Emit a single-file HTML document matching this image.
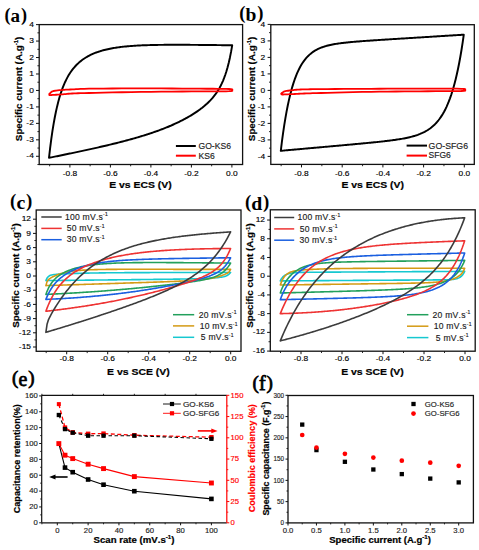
<!DOCTYPE html>
<html><head><meta charset="utf-8"><style>
html,body{margin:0;padding:0;background:#fff;overflow:hidden;width:479px;height:550px;}
svg{display:block;}
</style></head><body>
<svg width="479" height="550" viewBox="0 0 479 550">
<rect width="479" height="550" fill="#fff"/>
<rect x="39.2" y="24.6" width="203.39999999999998" height="139.9" fill="none" stroke="#111" stroke-width="1.3"/>
<line x1="36.00" y1="156.29" x2="39.20" y2="156.29" stroke="#111" stroke-width="1.0"/>
<text transform="translate(33.80 158.39) scale(1.050 1)" font-family="'Liberation Sans', sans-serif" font-size="8.0" text-anchor="end" fill="#000" stroke="#000" stroke-width="0.15" style="font-kerning:none">-4</text>
<line x1="36.00" y1="139.83" x2="39.20" y2="139.83" stroke="#111" stroke-width="1.0"/>
<text transform="translate(33.80 141.93) scale(1.050 1)" font-family="'Liberation Sans', sans-serif" font-size="8.0" text-anchor="end" fill="#000" stroke="#000" stroke-width="0.15" style="font-kerning:none">-3</text>
<line x1="36.00" y1="123.37" x2="39.20" y2="123.37" stroke="#111" stroke-width="1.0"/>
<text transform="translate(33.80 125.47) scale(1.050 1)" font-family="'Liberation Sans', sans-serif" font-size="8.0" text-anchor="end" fill="#000" stroke="#000" stroke-width="0.15" style="font-kerning:none">-2</text>
<line x1="36.00" y1="106.91" x2="39.20" y2="106.91" stroke="#111" stroke-width="1.0"/>
<text transform="translate(33.80 109.01) scale(1.050 1)" font-family="'Liberation Sans', sans-serif" font-size="8.0" text-anchor="end" fill="#000" stroke="#000" stroke-width="0.15" style="font-kerning:none">-1</text>
<line x1="36.00" y1="90.45" x2="39.20" y2="90.45" stroke="#111" stroke-width="1.0"/>
<text transform="translate(33.80 92.55) scale(1.050 1)" font-family="'Liberation Sans', sans-serif" font-size="8.0" text-anchor="end" fill="#000" stroke="#000" stroke-width="0.15" style="font-kerning:none">0</text>
<line x1="36.00" y1="73.99" x2="39.20" y2="73.99" stroke="#111" stroke-width="1.0"/>
<text transform="translate(33.80 76.09) scale(1.050 1)" font-family="'Liberation Sans', sans-serif" font-size="8.0" text-anchor="end" fill="#000" stroke="#000" stroke-width="0.15" style="font-kerning:none">1</text>
<line x1="36.00" y1="57.53" x2="39.20" y2="57.53" stroke="#111" stroke-width="1.0"/>
<text transform="translate(33.80 59.63) scale(1.050 1)" font-family="'Liberation Sans', sans-serif" font-size="8.0" text-anchor="end" fill="#000" stroke="#000" stroke-width="0.15" style="font-kerning:none">2</text>
<line x1="36.00" y1="41.07" x2="39.20" y2="41.07" stroke="#111" stroke-width="1.0"/>
<text transform="translate(33.80 43.17) scale(1.050 1)" font-family="'Liberation Sans', sans-serif" font-size="8.0" text-anchor="end" fill="#000" stroke="#000" stroke-width="0.15" style="font-kerning:none">3</text>
<line x1="36.00" y1="24.61" x2="39.20" y2="24.61" stroke="#111" stroke-width="1.0"/>
<text transform="translate(33.80 26.71) scale(1.050 1)" font-family="'Liberation Sans', sans-serif" font-size="8.0" text-anchor="end" fill="#000" stroke="#000" stroke-width="0.15" style="font-kerning:none">4</text>
<line x1="37.40" y1="148.06" x2="39.20" y2="148.06" stroke="#111" stroke-width="0.9"/>
<line x1="37.40" y1="131.60" x2="39.20" y2="131.60" stroke="#111" stroke-width="0.9"/>
<line x1="37.40" y1="115.14" x2="39.20" y2="115.14" stroke="#111" stroke-width="0.9"/>
<line x1="37.40" y1="98.68" x2="39.20" y2="98.68" stroke="#111" stroke-width="0.9"/>
<line x1="37.40" y1="82.22" x2="39.20" y2="82.22" stroke="#111" stroke-width="0.9"/>
<line x1="37.40" y1="65.76" x2="39.20" y2="65.76" stroke="#111" stroke-width="0.9"/>
<line x1="37.40" y1="49.30" x2="39.20" y2="49.30" stroke="#111" stroke-width="0.9"/>
<line x1="37.40" y1="32.84" x2="39.20" y2="32.84" stroke="#111" stroke-width="0.9"/>
<line x1="37.40" y1="164.52" x2="39.20" y2="164.52" stroke="#111" stroke-width="0.9"/>
<line x1="69.90" y1="164.50" x2="69.90" y2="167.50" stroke="#111" stroke-width="1.0"/>
<text transform="translate(69.90 176.00) scale(1.050 1)" font-family="'Liberation Sans', sans-serif" font-size="8.0" text-anchor="middle" fill="#000" stroke="#000" stroke-width="0.15" style="font-kerning:none">-0.8</text>
<line x1="110.40" y1="164.50" x2="110.40" y2="167.50" stroke="#111" stroke-width="1.0"/>
<text transform="translate(110.40 176.00) scale(1.050 1)" font-family="'Liberation Sans', sans-serif" font-size="8.0" text-anchor="middle" fill="#000" stroke="#000" stroke-width="0.15" style="font-kerning:none">-0.6</text>
<line x1="150.90" y1="164.50" x2="150.90" y2="167.50" stroke="#111" stroke-width="1.0"/>
<text transform="translate(150.90 176.00) scale(1.050 1)" font-family="'Liberation Sans', sans-serif" font-size="8.0" text-anchor="middle" fill="#000" stroke="#000" stroke-width="0.15" style="font-kerning:none">-0.4</text>
<line x1="191.40" y1="164.50" x2="191.40" y2="167.50" stroke="#111" stroke-width="1.0"/>
<text transform="translate(191.40 176.00) scale(1.050 1)" font-family="'Liberation Sans', sans-serif" font-size="8.0" text-anchor="middle" fill="#000" stroke="#000" stroke-width="0.15" style="font-kerning:none">-0.2</text>
<line x1="231.90" y1="164.50" x2="231.90" y2="167.50" stroke="#111" stroke-width="1.0"/>
<text transform="translate(231.90 176.00) scale(1.050 1)" font-family="'Liberation Sans', sans-serif" font-size="8.0" text-anchor="middle" fill="#000" stroke="#000" stroke-width="0.15" style="font-kerning:none">0.0</text>
<line x1="49.65" y1="164.50" x2="49.65" y2="166.30" stroke="#111" stroke-width="0.9"/>
<line x1="90.15" y1="164.50" x2="90.15" y2="166.30" stroke="#111" stroke-width="0.9"/>
<line x1="130.65" y1="164.50" x2="130.65" y2="166.30" stroke="#111" stroke-width="0.9"/>
<line x1="171.15" y1="164.50" x2="171.15" y2="166.30" stroke="#111" stroke-width="0.9"/>
<line x1="211.65" y1="164.50" x2="211.65" y2="166.30" stroke="#111" stroke-width="0.9"/>
<text x="4.45" y="20.63" font-family="'Liberation Serif', serif" font-weight="bold" font-size="18.19" fill="#000">(<tspan font-size="19.10" dy="1.5">a</tspan><tspan dy="-1.5" dx="0.9">)</tspan></text>
<text transform="translate(140.40 187.60) scale(1.120 1)" font-family="'Liberation Sans', sans-serif" font-size="9.3" font-weight="bold" text-anchor="middle" fill="#000" stroke="#000" stroke-width="0.2" style="font-kerning:none">E vs ECS (V)</text>
<text transform="translate(21.60 88.90) rotate(-90)" font-family="'Liberation Sans', sans-serif" font-size="9.8" font-weight="bold" text-anchor="middle" fill="#000" stroke="#000" stroke-width="0.2" style="font-kerning:none">Specific current (A.g<tspan dy="-3.9" font-size="6.1">-1</tspan><tspan dy="3.9">)</tspan></text>
<path d="M49.00,157.80 L50.15,147.79 L51.31,138.88 L52.46,130.94 L53.61,123.84 L54.76,117.48 L55.92,111.77 L57.07,106.64 L58.22,102.01 L59.37,97.82 L60.52,94.03 L61.68,90.59 L62.83,87.45 L63.98,84.60 L65.13,81.98 L66.29,79.58 L67.44,77.38 L68.59,75.35 L69.74,73.48 L70.89,71.75 L72.05,70.15 L73.20,68.66 L74.35,67.28 L75.50,65.99 L76.66,64.78 L77.81,63.66 L78.96,62.61 L80.11,61.62 L81.26,60.69 L82.42,59.82 L83.57,59.00 L84.72,58.23 L85.87,57.51 L87.03,56.82 L88.18,56.17 L89.33,55.56 L90.48,54.98 L91.63,54.43 L92.79,53.92 L93.94,53.43 L95.09,52.96 L96.24,52.52 L97.39,52.10 L98.55,51.71 L99.70,51.33 L100.85,50.97 L102.00,50.63 L103.16,50.31 L104.31,50.01 L105.46,49.72 L106.61,49.44 L107.76,49.18 L108.92,48.93 L110.07,48.69 L111.22,48.47 L112.37,48.26 L113.53,48.06 L114.68,47.86 L115.83,47.68 L116.98,47.51 L118.13,47.35 L119.29,47.19 L120.44,47.04 L121.59,46.90 L122.74,46.77 L123.90,46.64 L125.05,46.52 L126.20,46.41 L127.35,46.30 L128.50,46.20 L129.66,46.11 L130.81,46.01 L131.96,45.93 L133.11,45.85 L134.27,45.77 L135.42,45.70 L136.57,45.63 L137.72,45.57 L138.87,45.51 L140.03,45.45 L141.18,45.39 L142.33,45.34 L143.48,45.30 L144.64,45.25 L145.79,45.21 L146.94,45.17 L148.09,45.13 L149.24,45.10 L150.40,45.07 L151.55,45.04 L152.70,45.01 L153.85,44.99 L155.01,44.96 L156.16,44.94 L157.31,44.92 L158.46,44.90 L159.61,44.89 L160.77,44.87 L161.92,44.86 L163.07,44.85 L164.22,44.84 L165.38,44.83 L166.53,44.82 L167.68,44.81 L168.83,44.81 L169.98,44.80 L171.14,44.80 L172.29,44.79 L173.44,44.79 L174.59,44.79 L175.75,44.79 L176.90,44.79 L178.05,44.79 L179.20,44.79 L180.35,44.80 L181.51,44.80 L182.66,44.80 L183.81,44.81 L184.96,44.81 L186.12,44.82 L187.27,44.83 L188.42,44.83 L189.57,44.84 L190.72,44.85 L191.88,44.85 L193.03,44.86 L194.18,44.87 L195.33,44.88 L196.49,44.89 L197.64,44.90 L198.79,44.91 L199.94,44.92 L201.09,44.93 L202.25,44.94 L203.40,44.95 L204.55,44.97 L205.70,44.98 L206.86,44.99 L208.01,45.00 L209.16,45.02 L210.31,45.03 L211.46,45.04 L212.62,45.05 L213.77,45.07 L214.92,45.08 L216.07,45.09 L217.22,45.11 L218.38,45.12 L219.53,45.14 L220.68,45.15 L221.83,45.17 L222.99,45.18 L224.14,45.19 L225.29,45.21 L226.44,45.22 L227.59,45.24 L228.75,45.25 L229.90,45.27 L231.05,45.28 L232.20,45.30 L231.05,51.89 L229.90,57.66 L228.75,62.74 L227.59,67.23 L226.44,71.21 L225.29,74.76 L224.14,77.94 L222.99,80.80 L221.83,83.39 L220.68,85.74 L219.53,87.89 L218.38,89.87 L217.22,91.69 L216.07,93.39 L214.92,94.96 L213.77,96.44 L212.62,97.83 L211.46,99.14 L210.31,100.38 L209.16,101.56 L208.01,102.68 L206.86,103.76 L205.70,104.79 L204.55,105.79 L203.40,106.74 L202.25,107.67 L201.09,108.56 L199.94,109.43 L198.79,110.27 L197.64,111.09 L196.49,111.88 L195.33,112.65 L194.18,113.41 L193.03,114.14 L191.88,114.86 L190.72,115.56 L189.57,116.24 L188.42,116.91 L187.27,117.57 L186.12,118.21 L184.96,118.84 L183.81,119.46 L182.66,120.06 L181.51,120.65 L180.35,121.23 L179.20,121.80 L178.05,122.36 L176.90,122.91 L175.75,123.45 L174.59,123.98 L173.44,124.50 L172.29,125.01 L171.14,125.52 L169.98,126.01 L168.83,126.50 L167.68,126.98 L166.53,127.45 L165.38,127.91 L164.22,128.37 L163.07,128.82 L161.92,129.26 L160.77,129.70 L159.61,130.13 L158.46,130.55 L157.31,130.97 L156.16,131.38 L155.01,131.79 L153.85,132.19 L152.70,132.59 L151.55,132.98 L150.40,133.37 L149.24,133.75 L148.09,134.12 L146.94,134.50 L145.79,134.86 L144.64,135.23 L143.48,135.59 L142.33,135.94 L141.18,136.29 L140.03,136.64 L138.87,136.98 L137.72,137.32 L136.57,137.66 L135.42,137.99 L134.27,138.32 L133.11,138.65 L131.96,138.97 L130.81,139.29 L129.66,139.61 L128.50,139.92 L127.35,140.23 L126.20,140.54 L125.05,140.85 L123.90,141.15 L122.74,141.46 L121.59,141.75 L120.44,142.05 L119.29,142.35 L118.13,142.64 L116.98,142.93 L115.83,143.22 L114.68,143.50 L113.53,143.79 L112.37,144.07 L111.22,144.35 L110.07,144.63 L108.92,144.90 L107.76,145.18 L106.61,145.45 L105.46,145.72 L104.31,146.00 L103.16,146.26 L102.00,146.53 L100.85,146.80 L99.70,147.06 L98.55,147.33 L97.39,147.59 L96.24,147.85 L95.09,148.11 L93.94,148.37 L92.79,148.62 L91.63,148.88 L90.48,149.14 L89.33,149.39 L88.18,149.64 L87.03,149.89 L85.87,150.15 L84.72,150.40 L83.57,150.64 L82.42,150.89 L81.26,151.14 L80.11,151.39 L78.96,151.63 L77.81,151.88 L76.66,152.12 L75.50,152.37 L74.35,152.61 L73.20,152.85 L72.05,153.09 L70.89,153.33 L69.74,153.57 L68.59,153.81 L67.44,154.05 L66.29,154.29 L65.13,154.53 L63.98,154.76 L62.83,155.00 L61.68,155.24 L60.52,155.47 L59.37,155.71 L58.22,155.94 L57.07,156.18 L55.92,156.41 L54.76,156.64 L53.61,156.88 L52.46,157.11 L51.31,157.34 L50.15,157.57 L49.00,157.80 Z" fill="none" stroke="#000" stroke-width="1.95" stroke-linejoin="round"/>
<path d="M48.70,94.80 L48.86,94.61 L49.06,94.34 L49.31,94.02 L49.60,93.68 L49.93,93.33 L50.30,93.00 L50.66,92.67 L50.99,92.31 L51.36,91.96 L51.84,91.61 L52.50,91.28 L53.40,91.00 L54.60,90.76 L56.07,90.54 L57.71,90.36 L59.43,90.19 L61.16,90.04 L62.80,89.90 L64.28,89.78 L65.66,89.70 L67.04,89.62 L68.52,89.56 L70.21,89.49 L72.20,89.40 L74.16,89.29 L75.95,89.17 L77.94,89.04 L80.52,88.91 L84.08,88.80 L89.00,88.70 L95.55,88.62 L103.47,88.55 L112.36,88.49 L121.84,88.44 L131.52,88.41 L141.00,88.40 L150.78,88.42 L161.26,88.46 L171.94,88.51 L182.30,88.58 L191.82,88.64 L200.00,88.70 L206.87,88.74 L212.86,88.77 L218.01,88.80 L222.39,88.84 L226.03,88.90 L229.00,89.00 L231.05,89.14 L232.08,89.31 L232.39,89.50 L232.25,89.70 L231.96,89.91 L231.80,90.10 L231.96,90.29 L232.25,90.50 L232.39,90.71 L232.08,90.90 L231.05,91.07 L229.00,91.20 L226.03,91.28 L222.39,91.32 L218.01,91.34 L212.86,91.34 L206.87,91.36 L200.00,91.40 L191.82,91.46 L182.30,91.52 L171.94,91.59 L161.26,91.68 L150.78,91.78 L141.00,91.90 L131.52,92.06 L121.84,92.24 L112.36,92.45 L103.47,92.66 L95.55,92.84 L89.00,93.00 L84.08,93.11 L80.52,93.20 L77.94,93.27 L75.95,93.33 L74.16,93.41 L72.20,93.50 L70.21,93.62 L68.52,93.75 L67.04,93.89 L65.66,94.04 L64.28,94.17 L62.80,94.30 L61.16,94.42 L59.44,94.53 L57.72,94.64 L56.09,94.74 L54.62,94.83 L53.40,94.90 L52.46,94.96 L51.74,95.01 L51.19,95.06 L50.76,95.09 L50.38,95.10 L50.00,95.10 L49.65,95.08 L49.36,95.03 L49.14,94.96 L48.96,94.90 L48.82,94.84 L48.70,94.80" fill="none" stroke="#f00" stroke-width="1.8" stroke-linejoin="round"/>
<line x1="175.90" y1="146.00" x2="195.80" y2="146.00" stroke="#000" stroke-width="2"/>
<line x1="175.90" y1="155.70" x2="195.80" y2="155.70" stroke="#f00" stroke-width="2"/>
<text transform="translate(198.50 148.90) scale(1.050 1)" font-family="'Liberation Sans', sans-serif" font-size="8.2" text-anchor="start" fill="#222" stroke="#222" stroke-width="0.15" style="font-kerning:none">GO-KS6</text>
<text transform="translate(198.50 158.80) scale(1.050 1)" font-family="'Liberation Sans', sans-serif" font-size="8.2" text-anchor="start" fill="#222" stroke="#222" stroke-width="0.15" style="font-kerning:none">KS6</text>
<rect x="270.8" y="24.7" width="203.5" height="139.70000000000002" fill="none" stroke="#111" stroke-width="1.3"/>
<line x1="267.60" y1="156.40" x2="270.80" y2="156.40" stroke="#111" stroke-width="1.0"/>
<text transform="translate(265.20 158.50) scale(1.050 1)" font-family="'Liberation Sans', sans-serif" font-size="8.0" text-anchor="end" fill="#000" stroke="#000" stroke-width="0.15" style="font-kerning:none">-4</text>
<line x1="267.60" y1="139.90" x2="270.80" y2="139.90" stroke="#111" stroke-width="1.0"/>
<text transform="translate(265.20 142.00) scale(1.050 1)" font-family="'Liberation Sans', sans-serif" font-size="8.0" text-anchor="end" fill="#000" stroke="#000" stroke-width="0.15" style="font-kerning:none">-3</text>
<line x1="267.60" y1="123.40" x2="270.80" y2="123.40" stroke="#111" stroke-width="1.0"/>
<text transform="translate(265.20 125.50) scale(1.050 1)" font-family="'Liberation Sans', sans-serif" font-size="8.0" text-anchor="end" fill="#000" stroke="#000" stroke-width="0.15" style="font-kerning:none">-2</text>
<line x1="267.60" y1="106.90" x2="270.80" y2="106.90" stroke="#111" stroke-width="1.0"/>
<text transform="translate(265.20 109.00) scale(1.050 1)" font-family="'Liberation Sans', sans-serif" font-size="8.0" text-anchor="end" fill="#000" stroke="#000" stroke-width="0.15" style="font-kerning:none">-1</text>
<line x1="267.60" y1="90.40" x2="270.80" y2="90.40" stroke="#111" stroke-width="1.0"/>
<text transform="translate(265.20 92.50) scale(1.050 1)" font-family="'Liberation Sans', sans-serif" font-size="8.0" text-anchor="end" fill="#000" stroke="#000" stroke-width="0.15" style="font-kerning:none">0</text>
<line x1="267.60" y1="73.90" x2="270.80" y2="73.90" stroke="#111" stroke-width="1.0"/>
<text transform="translate(265.20 76.00) scale(1.050 1)" font-family="'Liberation Sans', sans-serif" font-size="8.0" text-anchor="end" fill="#000" stroke="#000" stroke-width="0.15" style="font-kerning:none">1</text>
<line x1="267.60" y1="57.40" x2="270.80" y2="57.40" stroke="#111" stroke-width="1.0"/>
<text transform="translate(265.20 59.50) scale(1.050 1)" font-family="'Liberation Sans', sans-serif" font-size="8.0" text-anchor="end" fill="#000" stroke="#000" stroke-width="0.15" style="font-kerning:none">2</text>
<line x1="267.60" y1="40.90" x2="270.80" y2="40.90" stroke="#111" stroke-width="1.0"/>
<text transform="translate(265.20 43.00) scale(1.050 1)" font-family="'Liberation Sans', sans-serif" font-size="8.0" text-anchor="end" fill="#000" stroke="#000" stroke-width="0.15" style="font-kerning:none">3</text>
<line x1="267.60" y1="24.40" x2="270.80" y2="24.40" stroke="#111" stroke-width="1.0"/>
<text transform="translate(265.20 26.50) scale(1.050 1)" font-family="'Liberation Sans', sans-serif" font-size="8.0" text-anchor="end" fill="#000" stroke="#000" stroke-width="0.15" style="font-kerning:none">4</text>
<line x1="269.00" y1="148.15" x2="270.80" y2="148.15" stroke="#111" stroke-width="0.9"/>
<line x1="269.00" y1="131.65" x2="270.80" y2="131.65" stroke="#111" stroke-width="0.9"/>
<line x1="269.00" y1="115.15" x2="270.80" y2="115.15" stroke="#111" stroke-width="0.9"/>
<line x1="269.00" y1="98.65" x2="270.80" y2="98.65" stroke="#111" stroke-width="0.9"/>
<line x1="269.00" y1="82.15" x2="270.80" y2="82.15" stroke="#111" stroke-width="0.9"/>
<line x1="269.00" y1="65.65" x2="270.80" y2="65.65" stroke="#111" stroke-width="0.9"/>
<line x1="269.00" y1="49.15" x2="270.80" y2="49.15" stroke="#111" stroke-width="0.9"/>
<line x1="269.00" y1="32.65" x2="270.80" y2="32.65" stroke="#111" stroke-width="0.9"/>
<line x1="301.50" y1="164.40" x2="301.50" y2="167.40" stroke="#111" stroke-width="1.0"/>
<text transform="translate(301.50 176.00) scale(1.050 1)" font-family="'Liberation Sans', sans-serif" font-size="8.0" text-anchor="middle" fill="#000" stroke="#000" stroke-width="0.15" style="font-kerning:none">-0.8</text>
<line x1="342.20" y1="164.40" x2="342.20" y2="167.40" stroke="#111" stroke-width="1.0"/>
<text transform="translate(342.20 176.00) scale(1.050 1)" font-family="'Liberation Sans', sans-serif" font-size="8.0" text-anchor="middle" fill="#000" stroke="#000" stroke-width="0.15" style="font-kerning:none">-0.6</text>
<line x1="382.90" y1="164.40" x2="382.90" y2="167.40" stroke="#111" stroke-width="1.0"/>
<text transform="translate(382.90 176.00) scale(1.050 1)" font-family="'Liberation Sans', sans-serif" font-size="8.0" text-anchor="middle" fill="#000" stroke="#000" stroke-width="0.15" style="font-kerning:none">-0.4</text>
<line x1="423.60" y1="164.40" x2="423.60" y2="167.40" stroke="#111" stroke-width="1.0"/>
<text transform="translate(423.60 176.00) scale(1.050 1)" font-family="'Liberation Sans', sans-serif" font-size="8.0" text-anchor="middle" fill="#000" stroke="#000" stroke-width="0.15" style="font-kerning:none">-0.2</text>
<line x1="464.30" y1="164.40" x2="464.30" y2="167.40" stroke="#111" stroke-width="1.0"/>
<text transform="translate(464.30 176.00) scale(1.050 1)" font-family="'Liberation Sans', sans-serif" font-size="8.0" text-anchor="middle" fill="#000" stroke="#000" stroke-width="0.15" style="font-kerning:none">0.0</text>
<line x1="281.15" y1="164.40" x2="281.15" y2="166.20" stroke="#111" stroke-width="0.9"/>
<line x1="321.85" y1="164.40" x2="321.85" y2="166.20" stroke="#111" stroke-width="0.9"/>
<line x1="362.55" y1="164.40" x2="362.55" y2="166.20" stroke="#111" stroke-width="0.9"/>
<line x1="403.25" y1="164.40" x2="403.25" y2="166.20" stroke="#111" stroke-width="0.9"/>
<line x1="443.95" y1="164.40" x2="443.95" y2="166.20" stroke="#111" stroke-width="0.9"/>
<text x="239.20" y="19.23" font-family="'Liberation Serif', serif" font-weight="bold" font-size="18.63" fill="#000">(<tspan font-size="19.56" dy="1.5">b</tspan><tspan dy="-1.5" dx="0.9">)</tspan></text>
<text transform="translate(372.70 187.60) scale(1.120 1)" font-family="'Liberation Sans', sans-serif" font-size="9.3" font-weight="bold" text-anchor="middle" fill="#000" stroke="#000" stroke-width="0.2" style="font-kerning:none">E vs ECS (V)</text>
<text transform="translate(254.60 88.90) rotate(-90)" font-family="'Liberation Sans', sans-serif" font-size="9.8" font-weight="bold" text-anchor="middle" fill="#000" stroke="#000" stroke-width="0.2" style="font-kerning:none">Specific current (A.g<tspan dy="-3.9" font-size="6.1">-1</tspan><tspan dy="3.9">)</tspan></text>
<path d="M280.80,150.81 L281.95,141.47 L283.11,132.95 L284.26,125.19 L285.41,118.10 L286.56,111.63 L287.71,105.73 L288.86,100.34 L290.01,95.43 L291.16,90.94 L292.31,86.84 L293.46,83.10 L294.61,79.69 L295.77,76.57 L296.92,73.72 L298.07,71.11 L299.22,68.73 L300.37,66.56 L301.52,64.57 L302.67,62.75 L303.82,61.08 L304.97,59.56 L306.12,58.16 L307.27,56.88 L308.42,55.71 L309.58,54.63 L310.73,53.65 L311.88,52.74 L313.03,51.91 L314.18,51.15 L315.33,50.44 L316.48,49.80 L317.63,49.20 L318.78,48.65 L319.93,48.14 L321.08,47.67 L322.24,47.24 L323.39,46.84 L324.54,46.47 L325.69,46.12 L326.84,45.80 L327.99,45.50 L329.14,45.22 L330.29,44.96 L331.44,44.71 L332.59,44.49 L333.74,44.27 L334.89,44.07 L336.05,43.88 L337.20,43.70 L338.35,43.53 L339.50,43.36 L340.65,43.21 L341.80,43.06 L342.95,42.92 L344.10,42.79 L345.25,42.66 L346.40,42.54 L347.55,42.42 L348.70,42.30 L349.86,42.19 L351.01,42.09 L352.16,41.98 L353.31,41.88 L354.46,41.78 L355.61,41.69 L356.76,41.59 L357.91,41.50 L359.06,41.41 L360.21,41.32 L361.36,41.23 L362.52,41.15 L363.67,41.06 L364.82,40.98 L365.97,40.90 L367.12,40.82 L368.27,40.74 L369.42,40.66 L370.57,40.58 L371.72,40.50 L372.87,40.42 L374.02,40.34 L375.17,40.27 L376.33,40.19 L377.48,40.11 L378.63,40.04 L379.78,39.96 L380.93,39.89 L382.08,39.81 L383.23,39.74 L384.38,39.67 L385.53,39.59 L386.68,39.52 L387.83,39.44 L388.99,39.37 L390.14,39.30 L391.29,39.22 L392.44,39.15 L393.59,39.08 L394.74,39.01 L395.89,38.93 L397.04,38.86 L398.19,38.79 L399.34,38.72 L400.49,38.64 L401.64,38.57 L402.80,38.50 L403.95,38.43 L405.10,38.36 L406.25,38.28 L407.40,38.21 L408.55,38.14 L409.70,38.07 L410.85,38.00 L412.00,37.92 L413.15,37.85 L414.30,37.78 L415.46,37.71 L416.61,37.64 L417.76,37.56 L418.91,37.49 L420.06,37.42 L421.21,37.35 L422.36,37.28 L423.51,37.20 L424.66,37.13 L425.81,37.06 L426.96,36.99 L428.11,36.92 L429.27,36.85 L430.42,36.77 L431.57,36.70 L432.72,36.63 L433.87,36.56 L435.02,36.49 L436.17,36.42 L437.32,36.34 L438.47,36.27 L439.62,36.20 L440.77,36.13 L441.92,36.06 L443.08,35.99 L444.23,35.91 L445.38,35.84 L446.53,35.77 L447.68,35.70 L448.83,35.63 L449.98,35.56 L451.13,35.48 L452.28,35.41 L453.43,35.34 L454.58,35.27 L455.74,35.20 L456.89,35.13 L458.04,35.05 L459.19,34.98 L460.34,34.91 L461.49,34.84 L462.64,34.77 L463.79,34.70 L462.64,42.65 L461.49,49.98 L460.34,56.74 L459.19,62.98 L458.04,68.74 L456.89,74.05 L455.74,78.96 L454.58,83.48 L453.43,87.66 L452.28,91.52 L451.13,95.08 L449.98,98.37 L448.83,101.41 L447.68,104.22 L446.53,106.82 L445.38,109.22 L444.23,111.44 L443.08,113.49 L441.92,115.39 L440.77,117.15 L439.62,118.78 L438.47,120.28 L437.32,121.68 L436.17,122.98 L435.02,124.18 L433.87,125.30 L432.72,126.33 L431.57,127.29 L430.42,128.19 L429.27,129.02 L428.11,129.80 L426.96,130.52 L425.81,131.19 L424.66,131.82 L423.51,132.41 L422.36,132.96 L421.21,133.47 L420.06,133.95 L418.91,134.40 L417.76,134.83 L416.61,135.23 L415.46,135.60 L414.30,135.96 L413.15,136.29 L412.00,136.61 L410.85,136.91 L409.70,137.19 L408.55,137.46 L407.40,137.72 L406.25,137.96 L405.10,138.20 L403.95,138.42 L402.80,138.63 L401.64,138.84 L400.49,139.04 L399.34,139.22 L398.19,139.41 L397.04,139.58 L395.89,139.75 L394.74,139.92 L393.59,140.08 L392.44,140.24 L391.29,140.39 L390.14,140.53 L388.99,140.68 L387.83,140.82 L386.68,140.96 L385.53,141.09 L384.38,141.22 L383.23,141.35 L382.08,141.48 L380.93,141.61 L379.78,141.73 L378.63,141.86 L377.48,141.98 L376.33,142.10 L375.17,142.21 L374.02,142.33 L372.87,142.45 L371.72,142.56 L370.57,142.67 L369.42,142.79 L368.27,142.90 L367.12,143.01 L365.97,143.12 L364.82,143.23 L363.67,143.34 L362.52,143.45 L361.36,143.56 L360.21,143.67 L359.06,143.77 L357.91,143.88 L356.76,143.99 L355.61,144.09 L354.46,144.20 L353.31,144.31 L352.16,144.41 L351.01,144.52 L349.86,144.62 L348.70,144.73 L347.55,144.83 L346.40,144.94 L345.25,145.04 L344.10,145.15 L342.95,145.25 L341.80,145.35 L340.65,145.46 L339.50,145.56 L338.35,145.66 L337.20,145.77 L336.05,145.87 L334.89,145.98 L333.74,146.08 L332.59,146.18 L331.44,146.29 L330.29,146.39 L329.14,146.49 L327.99,146.60 L326.84,146.70 L325.69,146.80 L324.54,146.90 L323.39,147.01 L322.24,147.11 L321.08,147.21 L319.93,147.32 L318.78,147.42 L317.63,147.52 L316.48,147.62 L315.33,147.73 L314.18,147.83 L313.03,147.93 L311.88,148.04 L310.73,148.14 L309.58,148.24 L308.42,148.34 L307.27,148.45 L306.12,148.55 L304.97,148.65 L303.82,148.75 L302.67,148.86 L301.52,148.96 L300.37,149.06 L299.22,149.16 L298.07,149.27 L296.92,149.37 L295.77,149.47 L294.61,149.58 L293.46,149.68 L292.31,149.78 L291.16,149.88 L290.01,149.99 L288.86,150.09 L287.71,150.19 L286.56,150.29 L285.41,150.40 L284.26,150.50 L283.11,150.60 L281.95,150.70 L280.80,150.81 Z" fill="none" stroke="#000" stroke-width="1.95" stroke-linejoin="round"/>
<path d="M280.70,94.10 L280.90,93.91 L281.16,93.64 L281.48,93.32 L281.83,92.99 L282.21,92.67 L282.60,92.40 L282.94,92.17 L283.22,91.97 L283.53,91.78 L283.94,91.59 L284.54,91.40 L285.40,91.20 L286.58,90.98 L288.04,90.74 L289.69,90.51 L291.42,90.28 L293.16,90.07 L294.80,89.90 L296.28,89.77 L297.66,89.67 L299.04,89.59 L300.52,89.52 L302.21,89.46 L304.20,89.40 L306.19,89.34 L308.02,89.29 L310.06,89.24 L312.67,89.19 L316.19,89.15 L321.00,89.10 L327.42,89.05 L335.24,89.00 L343.99,88.94 L353.18,88.89 L362.34,88.84 L371.00,88.80 L379.31,88.76 L387.69,88.71 L396.04,88.67 L404.27,88.63 L412.29,88.61 L420.00,88.60 L427.78,88.60 L435.77,88.60 L443.55,88.62 L450.69,88.65 L456.75,88.71 L461.30,88.80 L464.03,88.93 L465.23,89.10 L465.34,89.29 L464.85,89.50 L464.22,89.71 L463.90,89.90 L464.22,90.09 L464.85,90.30 L465.34,90.50 L465.23,90.69 L464.03,90.86 L461.30,91.00 L456.75,91.09 L450.69,91.15 L443.55,91.19 L435.77,91.21 L427.78,91.25 L420.00,91.30 L412.29,91.36 L404.27,91.43 L396.04,91.49 L387.69,91.57 L379.31,91.67 L371.00,91.80 L362.34,91.97 L353.18,92.17 L343.99,92.40 L335.24,92.63 L327.42,92.83 L321.00,93.00 L316.19,93.12 L312.67,93.22 L310.06,93.29 L308.02,93.36 L306.19,93.42 L304.20,93.50 L302.21,93.58 L300.52,93.67 L299.04,93.76 L297.66,93.84 L296.28,93.92 L294.80,94.00 L293.16,94.08 L291.43,94.15 L289.71,94.22 L288.07,94.29 L286.60,94.35 L285.40,94.40 L284.50,94.44 L283.84,94.47 L283.36,94.50 L282.99,94.51 L282.66,94.52 L282.30,94.50 L281.93,94.46 L281.60,94.39 L281.31,94.31 L281.06,94.22 L280.86,94.15 L280.70,94.10" fill="none" stroke="#f00" stroke-width="1.8" stroke-linejoin="round"/>
<line x1="406.60" y1="145.60" x2="427.00" y2="145.60" stroke="#000" stroke-width="2"/>
<line x1="406.60" y1="155.60" x2="427.00" y2="155.60" stroke="#f00" stroke-width="2"/>
<text transform="translate(428.60 148.60) scale(1.070 1)" font-family="'Liberation Sans', sans-serif" font-size="8.2" text-anchor="start" fill="#222" stroke="#222" stroke-width="0.15" style="font-kerning:none">GO-SFG6</text>
<text transform="translate(428.60 158.20) scale(1.040 1)" font-family="'Liberation Sans', sans-serif" font-size="8.2" text-anchor="start" fill="#222" stroke="#222" stroke-width="0.15" style="font-kerning:none">SFG6</text>
<rect x="36.2" y="210" width="204.8" height="141.3" fill="none" stroke="#111" stroke-width="1.3"/>
<line x1="33.00" y1="347.00" x2="36.20" y2="347.00" stroke="#111" stroke-width="1.0"/>
<text transform="translate(31.00 349.10) scale(1.050 1)" font-family="'Liberation Sans', sans-serif" font-size="8.0" text-anchor="end" fill="#000" stroke="#000" stroke-width="0.15" style="font-kerning:none">-15</text>
<line x1="33.00" y1="332.80" x2="36.20" y2="332.80" stroke="#111" stroke-width="1.0"/>
<text transform="translate(31.00 334.90) scale(1.050 1)" font-family="'Liberation Sans', sans-serif" font-size="8.0" text-anchor="end" fill="#000" stroke="#000" stroke-width="0.15" style="font-kerning:none">-12</text>
<line x1="33.00" y1="318.60" x2="36.20" y2="318.60" stroke="#111" stroke-width="1.0"/>
<text transform="translate(31.00 320.70) scale(1.050 1)" font-family="'Liberation Sans', sans-serif" font-size="8.0" text-anchor="end" fill="#000" stroke="#000" stroke-width="0.15" style="font-kerning:none">-9</text>
<line x1="33.00" y1="304.40" x2="36.20" y2="304.40" stroke="#111" stroke-width="1.0"/>
<text transform="translate(31.00 306.50) scale(1.050 1)" font-family="'Liberation Sans', sans-serif" font-size="8.0" text-anchor="end" fill="#000" stroke="#000" stroke-width="0.15" style="font-kerning:none">-6</text>
<line x1="33.00" y1="290.20" x2="36.20" y2="290.20" stroke="#111" stroke-width="1.0"/>
<text transform="translate(31.00 292.30) scale(1.050 1)" font-family="'Liberation Sans', sans-serif" font-size="8.0" text-anchor="end" fill="#000" stroke="#000" stroke-width="0.15" style="font-kerning:none">-3</text>
<line x1="33.00" y1="276.00" x2="36.20" y2="276.00" stroke="#111" stroke-width="1.0"/>
<text transform="translate(31.00 278.10) scale(1.050 1)" font-family="'Liberation Sans', sans-serif" font-size="8.0" text-anchor="end" fill="#000" stroke="#000" stroke-width="0.15" style="font-kerning:none">0</text>
<line x1="33.00" y1="261.80" x2="36.20" y2="261.80" stroke="#111" stroke-width="1.0"/>
<text transform="translate(31.00 263.90) scale(1.050 1)" font-family="'Liberation Sans', sans-serif" font-size="8.0" text-anchor="end" fill="#000" stroke="#000" stroke-width="0.15" style="font-kerning:none">3</text>
<line x1="33.00" y1="247.60" x2="36.20" y2="247.60" stroke="#111" stroke-width="1.0"/>
<text transform="translate(31.00 249.70) scale(1.050 1)" font-family="'Liberation Sans', sans-serif" font-size="8.0" text-anchor="end" fill="#000" stroke="#000" stroke-width="0.15" style="font-kerning:none">6</text>
<line x1="33.00" y1="233.40" x2="36.20" y2="233.40" stroke="#111" stroke-width="1.0"/>
<text transform="translate(31.00 235.50) scale(1.050 1)" font-family="'Liberation Sans', sans-serif" font-size="8.0" text-anchor="end" fill="#000" stroke="#000" stroke-width="0.15" style="font-kerning:none">9</text>
<line x1="33.00" y1="219.20" x2="36.20" y2="219.20" stroke="#111" stroke-width="1.0"/>
<text transform="translate(31.00 221.30) scale(1.050 1)" font-family="'Liberation Sans', sans-serif" font-size="8.0" text-anchor="end" fill="#000" stroke="#000" stroke-width="0.15" style="font-kerning:none">12</text>
<line x1="34.40" y1="339.90" x2="36.20" y2="339.90" stroke="#111" stroke-width="0.9"/>
<line x1="34.40" y1="325.70" x2="36.20" y2="325.70" stroke="#111" stroke-width="0.9"/>
<line x1="34.40" y1="311.50" x2="36.20" y2="311.50" stroke="#111" stroke-width="0.9"/>
<line x1="34.40" y1="297.30" x2="36.20" y2="297.30" stroke="#111" stroke-width="0.9"/>
<line x1="34.40" y1="283.10" x2="36.20" y2="283.10" stroke="#111" stroke-width="0.9"/>
<line x1="34.40" y1="268.90" x2="36.20" y2="268.90" stroke="#111" stroke-width="0.9"/>
<line x1="34.40" y1="254.70" x2="36.20" y2="254.70" stroke="#111" stroke-width="0.9"/>
<line x1="34.40" y1="240.50" x2="36.20" y2="240.50" stroke="#111" stroke-width="0.9"/>
<line x1="34.40" y1="226.30" x2="36.20" y2="226.30" stroke="#111" stroke-width="0.9"/>
<line x1="66.70" y1="351.30" x2="66.70" y2="354.30" stroke="#111" stroke-width="1.0"/>
<text transform="translate(66.70 361.20) scale(1.050 1)" font-family="'Liberation Sans', sans-serif" font-size="8.0" text-anchor="middle" fill="#000" stroke="#000" stroke-width="0.15" style="font-kerning:none">-0.8</text>
<line x1="107.70" y1="351.30" x2="107.70" y2="354.30" stroke="#111" stroke-width="1.0"/>
<text transform="translate(107.70 361.20) scale(1.050 1)" font-family="'Liberation Sans', sans-serif" font-size="8.0" text-anchor="middle" fill="#000" stroke="#000" stroke-width="0.15" style="font-kerning:none">-0.6</text>
<line x1="148.70" y1="351.30" x2="148.70" y2="354.30" stroke="#111" stroke-width="1.0"/>
<text transform="translate(148.70 361.20) scale(1.050 1)" font-family="'Liberation Sans', sans-serif" font-size="8.0" text-anchor="middle" fill="#000" stroke="#000" stroke-width="0.15" style="font-kerning:none">-0.4</text>
<line x1="189.70" y1="351.30" x2="189.70" y2="354.30" stroke="#111" stroke-width="1.0"/>
<text transform="translate(189.70 361.20) scale(1.050 1)" font-family="'Liberation Sans', sans-serif" font-size="8.0" text-anchor="middle" fill="#000" stroke="#000" stroke-width="0.15" style="font-kerning:none">-0.2</text>
<line x1="230.70" y1="351.30" x2="230.70" y2="354.30" stroke="#111" stroke-width="1.0"/>
<text transform="translate(230.70 361.20) scale(1.050 1)" font-family="'Liberation Sans', sans-serif" font-size="8.0" text-anchor="middle" fill="#000" stroke="#000" stroke-width="0.15" style="font-kerning:none">0.0</text>
<line x1="46.20" y1="351.30" x2="46.20" y2="353.10" stroke="#111" stroke-width="0.9"/>
<line x1="87.20" y1="351.30" x2="87.20" y2="353.10" stroke="#111" stroke-width="0.9"/>
<line x1="128.20" y1="351.30" x2="128.20" y2="353.10" stroke="#111" stroke-width="0.9"/>
<line x1="169.20" y1="351.30" x2="169.20" y2="353.10" stroke="#111" stroke-width="0.9"/>
<line x1="210.20" y1="351.30" x2="210.20" y2="353.10" stroke="#111" stroke-width="0.9"/>
<text x="10.10" y="207.28" font-family="'Liberation Serif', serif" font-weight="bold" font-size="18.85" fill="#000">(<tspan font-size="19.80" dy="1.5">c</tspan><tspan dy="-1.5" dx="0.9">)</tspan></text>
<path d="M45.89,280.59 L47.05,278.11 L48.22,276.66 L49.38,275.80 L50.54,275.27 L51.70,274.94 L52.86,274.71 L54.02,274.55 L55.19,274.43 L56.35,274.33 L57.51,274.25 L58.67,274.17 L59.83,274.10 L60.99,274.04 L62.16,273.97 L63.32,273.91 L64.48,273.86 L65.64,273.81 L66.80,273.75 L67.96,273.70 L69.13,273.66 L70.29,273.61 L71.45,273.57 L72.61,273.53 L73.77,273.49 L74.93,273.45 L76.10,273.41 L77.26,273.37 L78.42,273.34 L79.58,273.31 L80.74,273.28 L81.90,273.25 L83.07,273.22 L84.23,273.19 L85.39,273.16 L86.55,273.14 L87.71,273.11 L88.87,273.09 L90.04,273.06 L91.20,273.04 L92.36,273.02 L93.52,273.00 L94.68,272.98 L95.84,272.96 L97.01,272.94 L98.17,272.93 L99.33,272.91 L100.49,272.90 L101.65,272.88 L102.81,272.87 L103.98,272.85 L105.14,272.84 L106.30,272.82 L107.46,272.81 L108.62,272.80 L109.78,272.79 L110.95,272.78 L112.11,272.77 L113.27,272.76 L114.43,272.75 L115.59,272.74 L116.75,272.73 L117.92,272.72 L119.08,272.71 L120.24,272.70 L121.40,272.70 L122.56,272.69 L123.72,272.68 L124.89,272.67 L126.05,272.67 L127.21,272.66 L128.37,272.65 L129.53,272.65 L130.69,272.64 L131.86,272.64 L133.02,272.63 L134.18,272.63 L135.34,272.62 L136.50,272.62 L137.66,272.61 L138.83,272.61 L139.99,272.60 L141.15,272.60 L142.31,272.60 L143.47,272.59 L144.63,272.59 L145.80,272.59 L146.96,272.58 L148.12,272.58 L149.28,272.58 L150.44,272.57 L151.60,272.57 L152.77,272.57 L153.93,272.57 L155.09,272.56 L156.25,272.56 L157.41,272.56 L158.57,272.56 L159.74,272.55 L160.90,272.55 L162.06,272.55 L163.22,272.55 L164.38,272.55 L165.54,272.54 L166.71,272.54 L167.87,272.54 L169.03,272.54 L170.19,272.54 L171.35,272.54 L172.51,272.53 L173.68,272.53 L174.84,272.53 L176.00,272.53 L177.16,272.53 L178.32,272.53 L179.48,272.53 L180.65,272.53 L181.81,272.52 L182.97,272.52 L184.13,272.52 L185.29,272.52 L186.45,272.52 L187.62,272.52 L188.78,272.52 L189.94,272.52 L191.10,272.52 L192.26,272.52 L193.42,272.51 L194.59,272.51 L195.75,272.51 L196.91,272.51 L198.07,272.51 L199.23,272.51 L200.39,272.51 L201.56,272.51 L202.72,272.51 L203.88,272.51 L205.04,272.51 L206.20,272.51 L207.36,272.51 L208.53,272.51 L209.69,272.51 L210.85,272.51 L212.01,272.50 L213.17,272.50 L214.33,272.50 L215.50,272.50 L216.66,272.50 L217.82,272.50 L218.98,272.50 L220.14,272.50 L221.30,272.50 L222.47,272.50 L223.63,272.50 L224.79,272.50 L225.95,272.50 L227.11,272.50 L228.27,272.50 L229.44,272.50 L230.60,272.50 L229.44,273.80 L228.27,274.75 L227.11,275.45 L225.95,275.97 L224.79,276.38 L223.63,276.69 L222.47,276.94 L221.30,277.15 L220.14,277.32 L218.98,277.47 L217.82,277.60 L216.66,277.71 L215.50,277.82 L214.33,277.91 L213.17,277.99 L212.01,278.07 L210.85,278.14 L209.69,278.21 L208.53,278.27 L207.36,278.33 L206.20,278.38 L205.04,278.43 L203.88,278.48 L202.72,278.53 L201.56,278.57 L200.39,278.61 L199.23,278.65 L198.07,278.68 L196.91,278.72 L195.75,278.75 L194.59,278.78 L193.42,278.81 L192.26,278.84 L191.10,278.87 L189.94,278.89 L188.78,278.92 L187.62,278.94 L186.45,278.96 L185.29,278.99 L184.13,279.01 L182.97,279.03 L181.81,279.05 L180.65,279.07 L179.48,279.09 L178.32,279.10 L177.16,279.12 L176.00,279.14 L174.84,279.16 L173.68,279.17 L172.51,279.19 L171.35,279.21 L170.19,279.22 L169.03,279.24 L167.87,279.25 L166.71,279.27 L165.54,279.28 L164.38,279.30 L163.22,279.31 L162.06,279.33 L160.90,279.34 L159.74,279.35 L158.57,279.37 L157.41,279.38 L156.25,279.40 L155.09,279.41 L153.93,279.42 L152.77,279.44 L151.60,279.45 L150.44,279.46 L149.28,279.48 L148.12,279.49 L146.96,279.50 L145.80,279.52 L144.63,279.53 L143.47,279.54 L142.31,279.55 L141.15,279.57 L139.99,279.58 L138.83,279.59 L137.66,279.61 L136.50,279.62 L135.34,279.63 L134.18,279.64 L133.02,279.66 L131.86,279.67 L130.69,279.68 L129.53,279.69 L128.37,279.71 L127.21,279.72 L126.05,279.73 L124.89,279.75 L123.72,279.76 L122.56,279.77 L121.40,279.78 L120.24,279.80 L119.08,279.81 L117.92,279.82 L116.75,279.83 L115.59,279.85 L114.43,279.86 L113.27,279.87 L112.11,279.88 L110.95,279.90 L109.78,279.91 L108.62,279.92 L107.46,279.93 L106.30,279.95 L105.14,279.96 L103.98,279.97 L102.81,279.98 L101.65,279.99 L100.49,280.01 L99.33,280.02 L98.17,280.03 L97.01,280.04 L95.84,280.06 L94.68,280.07 L93.52,280.08 L92.36,280.09 L91.20,280.11 L90.04,280.12 L88.87,280.13 L87.71,280.14 L86.55,280.16 L85.39,280.17 L84.23,280.18 L83.07,280.19 L81.90,280.21 L80.74,280.22 L79.58,280.23 L78.42,280.24 L77.26,280.26 L76.10,280.27 L74.93,280.28 L73.77,280.29 L72.61,280.31 L71.45,280.32 L70.29,280.33 L69.13,280.34 L67.96,280.36 L66.80,280.37 L65.64,280.38 L64.48,280.39 L63.32,280.40 L62.16,280.42 L60.99,280.43 L59.83,280.44 L58.67,280.45 L57.51,280.47 L56.35,280.48 L55.19,280.49 L54.02,280.50 L52.86,280.52 L51.70,280.53 L50.54,280.54 L49.38,280.55 L48.22,280.57 L47.05,280.58 L45.89,280.59 Z" fill="none" stroke="#16c8d0" stroke-width="1.6" stroke-linejoin="round"/>
<path d="M45.89,285.61 L47.05,281.65 L48.22,279.94 L49.38,278.91 L50.54,278.11 L51.70,277.42 L52.86,276.79 L54.02,276.22 L55.19,275.68 L56.35,275.19 L57.51,274.74 L58.67,274.32 L59.83,273.93 L60.99,273.57 L62.16,273.24 L63.32,272.93 L64.48,272.65 L65.64,272.39 L66.80,272.14 L67.96,271.92 L69.13,271.71 L70.29,271.52 L71.45,271.35 L72.61,271.18 L73.77,271.03 L74.93,270.89 L76.10,270.76 L77.26,270.65 L78.42,270.54 L79.58,270.43 L80.74,270.34 L81.90,270.25 L83.07,270.17 L84.23,270.10 L85.39,270.03 L86.55,269.97 L87.71,269.91 L88.87,269.86 L90.04,269.81 L91.20,269.76 L92.36,269.72 L93.52,269.68 L94.68,269.65 L95.84,269.62 L97.01,269.59 L98.17,269.56 L99.33,269.53 L100.49,269.51 L101.65,269.49 L102.81,269.47 L103.98,269.45 L105.14,269.43 L106.30,269.42 L107.46,269.40 L108.62,269.39 L109.78,269.38 L110.95,269.37 L112.11,269.36 L113.27,269.35 L114.43,269.34 L115.59,269.34 L116.75,269.33 L117.92,269.32 L119.08,269.32 L120.24,269.31 L121.40,269.31 L122.56,269.31 L123.72,269.30 L124.89,269.30 L126.05,269.30 L127.21,269.30 L128.37,269.29 L129.53,269.29 L130.69,269.29 L131.86,269.29 L133.02,269.29 L134.18,269.29 L135.34,269.29 L136.50,269.29 L137.66,269.29 L138.83,269.29 L139.99,269.29 L141.15,269.29 L142.31,269.29 L143.47,269.29 L144.63,269.29 L145.80,269.29 L146.96,269.29 L148.12,269.29 L149.28,269.29 L150.44,269.29 L151.60,269.30 L152.77,269.30 L153.93,269.30 L155.09,269.30 L156.25,269.30 L157.41,269.30 L158.57,269.30 L159.74,269.31 L160.90,269.31 L162.06,269.31 L163.22,269.31 L164.38,269.31 L165.54,269.31 L166.71,269.32 L167.87,269.32 L169.03,269.32 L170.19,269.32 L171.35,269.32 L172.51,269.32 L173.68,269.33 L174.84,269.33 L176.00,269.33 L177.16,269.33 L178.32,269.33 L179.48,269.33 L180.65,269.34 L181.81,269.34 L182.97,269.34 L184.13,269.34 L185.29,269.34 L186.45,269.35 L187.62,269.35 L188.78,269.35 L189.94,269.35 L191.10,269.35 L192.26,269.36 L193.42,269.36 L194.59,269.36 L195.75,269.36 L196.91,269.36 L198.07,269.37 L199.23,269.37 L200.39,269.37 L201.56,269.37 L202.72,269.37 L203.88,269.38 L205.04,269.38 L206.20,269.38 L207.36,269.38 L208.53,269.38 L209.69,269.39 L210.85,269.39 L212.01,269.39 L213.17,269.39 L214.33,269.39 L215.50,269.40 L216.66,269.40 L217.82,269.40 L218.98,269.40 L220.14,269.40 L221.30,269.41 L222.47,269.41 L223.63,269.41 L224.79,269.41 L225.95,269.41 L227.11,269.42 L228.27,269.42 L229.44,269.42 L230.60,269.42 L229.44,271.48 L228.27,272.52 L227.11,273.24 L225.95,273.84 L224.79,274.37 L223.63,274.86 L222.47,275.31 L221.30,275.72 L220.14,276.11 L218.98,276.47 L217.82,276.80 L216.66,277.11 L215.50,277.39 L214.33,277.66 L213.17,277.90 L212.01,278.14 L210.85,278.35 L209.69,278.55 L208.53,278.74 L207.36,278.91 L206.20,279.08 L205.04,279.23 L203.88,279.38 L202.72,279.51 L201.56,279.64 L200.39,279.76 L199.23,279.88 L198.07,279.98 L196.91,280.09 L195.75,280.18 L194.59,280.28 L193.42,280.36 L192.26,280.45 L191.10,280.53 L189.94,280.60 L188.78,280.68 L187.62,280.75 L186.45,280.81 L185.29,280.88 L184.13,280.94 L182.97,281.00 L181.81,281.06 L180.65,281.12 L179.48,281.17 L178.32,281.23 L177.16,281.28 L176.00,281.33 L174.84,281.38 L173.68,281.43 L172.51,281.48 L171.35,281.52 L170.19,281.57 L169.03,281.62 L167.87,281.66 L166.71,281.71 L165.54,281.75 L164.38,281.79 L163.22,281.83 L162.06,281.88 L160.90,281.92 L159.74,281.96 L158.57,282.00 L157.41,282.04 L156.25,282.08 L155.09,282.12 L153.93,282.16 L152.77,282.20 L151.60,282.24 L150.44,282.28 L149.28,282.32 L148.12,282.36 L146.96,282.39 L145.80,282.43 L144.63,282.47 L143.47,282.51 L142.31,282.55 L141.15,282.58 L139.99,282.62 L138.83,282.66 L137.66,282.70 L136.50,282.74 L135.34,282.77 L134.18,282.81 L133.02,282.85 L131.86,282.89 L130.69,282.92 L129.53,282.96 L128.37,283.00 L127.21,283.03 L126.05,283.07 L124.89,283.11 L123.72,283.15 L122.56,283.18 L121.40,283.22 L120.24,283.26 L119.08,283.29 L117.92,283.33 L116.75,283.37 L115.59,283.40 L114.43,283.44 L113.27,283.48 L112.11,283.51 L110.95,283.55 L109.78,283.59 L108.62,283.62 L107.46,283.66 L106.30,283.70 L105.14,283.74 L103.98,283.77 L102.81,283.81 L101.65,283.85 L100.49,283.88 L99.33,283.92 L98.17,283.96 L97.01,283.99 L95.84,284.03 L94.68,284.07 L93.52,284.10 L92.36,284.14 L91.20,284.18 L90.04,284.21 L88.87,284.25 L87.71,284.29 L86.55,284.32 L85.39,284.36 L84.23,284.40 L83.07,284.43 L81.90,284.47 L80.74,284.51 L79.58,284.54 L78.42,284.58 L77.26,284.62 L76.10,284.65 L74.93,284.69 L73.77,284.73 L72.61,284.76 L71.45,284.80 L70.29,284.84 L69.13,284.87 L67.96,284.91 L66.80,284.95 L65.64,284.98 L64.48,285.02 L63.32,285.06 L62.16,285.09 L60.99,285.13 L59.83,285.17 L58.67,285.20 L57.51,285.24 L56.35,285.28 L55.19,285.31 L54.02,285.35 L52.86,285.39 L51.70,285.42 L50.54,285.46 L49.38,285.50 L48.22,285.53 L47.05,285.57 L45.89,285.61 Z" fill="none" stroke="#d49a14" stroke-width="1.6" stroke-linejoin="round"/>
<path d="M45.89,294.41 L47.05,291.33 L48.22,288.71 L49.38,286.46 L50.54,284.50 L51.70,282.80 L52.86,281.30 L54.02,279.96 L55.19,278.77 L56.35,277.70 L57.51,276.73 L58.67,275.85 L59.83,275.03 L60.99,274.29 L62.16,273.59 L63.32,272.95 L64.48,272.35 L65.64,271.80 L66.80,271.27 L67.96,270.78 L69.13,270.32 L70.29,269.88 L71.45,269.47 L72.61,269.09 L73.77,268.72 L74.93,268.37 L76.10,268.05 L77.26,267.74 L78.42,267.44 L79.58,267.17 L80.74,266.90 L81.90,266.65 L83.07,266.42 L84.23,266.19 L85.39,265.98 L86.55,265.78 L87.71,265.59 L88.87,265.41 L90.04,265.24 L91.20,265.08 L92.36,264.92 L93.52,264.78 L94.68,264.64 L95.84,264.51 L97.01,264.39 L98.17,264.27 L99.33,264.16 L100.49,264.05 L101.65,263.95 L102.81,263.86 L103.98,263.77 L105.14,263.69 L106.30,263.61 L107.46,263.54 L108.62,263.46 L109.78,263.40 L110.95,263.34 L112.11,263.28 L113.27,263.22 L114.43,263.17 L115.59,263.12 L116.75,263.07 L117.92,263.03 L119.08,262.99 L120.24,262.95 L121.40,262.92 L122.56,262.88 L123.72,262.85 L124.89,262.82 L126.05,262.80 L127.21,262.77 L128.37,262.75 L129.53,262.73 L130.69,262.71 L131.86,262.69 L133.02,262.67 L134.18,262.65 L135.34,262.64 L136.50,262.63 L137.66,262.62 L138.83,262.60 L139.99,262.59 L141.15,262.59 L142.31,262.58 L143.47,262.57 L144.63,262.57 L145.80,262.56 L146.96,262.56 L148.12,262.55 L149.28,262.55 L150.44,262.55 L151.60,262.55 L152.77,262.55 L153.93,262.55 L155.09,262.55 L156.25,262.55 L157.41,262.55 L158.57,262.55 L159.74,262.55 L160.90,262.56 L162.06,262.56 L163.22,262.56 L164.38,262.57 L165.54,262.57 L166.71,262.58 L167.87,262.58 L169.03,262.59 L170.19,262.59 L171.35,262.60 L172.51,262.60 L173.68,262.61 L174.84,262.62 L176.00,262.62 L177.16,262.63 L178.32,262.64 L179.48,262.65 L180.65,262.65 L181.81,262.66 L182.97,262.67 L184.13,262.68 L185.29,262.69 L186.45,262.69 L187.62,262.70 L188.78,262.71 L189.94,262.72 L191.10,262.73 L192.26,262.74 L193.42,262.75 L194.59,262.76 L195.75,262.77 L196.91,262.78 L198.07,262.79 L199.23,262.80 L200.39,262.81 L201.56,262.82 L202.72,262.83 L203.88,262.84 L205.04,262.85 L206.20,262.86 L207.36,262.87 L208.53,262.88 L209.69,262.89 L210.85,262.90 L212.01,262.91 L213.17,262.92 L214.33,262.93 L215.50,262.94 L216.66,262.95 L217.82,262.96 L218.98,262.97 L220.14,262.98 L221.30,262.99 L222.47,263.00 L223.63,263.01 L224.79,263.02 L225.95,263.04 L227.11,263.05 L228.27,263.06 L229.44,263.07 L230.60,263.08 L229.44,264.97 L228.27,266.63 L227.11,268.11 L225.95,269.42 L224.79,270.58 L223.63,271.62 L222.47,272.54 L221.30,273.37 L220.14,274.11 L218.98,274.78 L217.82,275.39 L216.66,275.94 L215.50,276.43 L214.33,276.89 L213.17,277.31 L212.01,277.69 L210.85,278.05 L209.69,278.38 L208.53,278.69 L207.36,278.98 L206.20,279.25 L205.04,279.51 L203.88,279.75 L202.72,279.98 L201.56,280.21 L200.39,280.42 L199.23,280.63 L198.07,280.82 L196.91,281.02 L195.75,281.20 L194.59,281.38 L193.42,281.56 L192.26,281.73 L191.10,281.90 L189.94,282.07 L188.78,282.23 L187.62,282.39 L186.45,282.55 L185.29,282.71 L184.13,282.86 L182.97,283.01 L181.81,283.16 L180.65,283.31 L179.48,283.46 L178.32,283.60 L177.16,283.75 L176.00,283.89 L174.84,284.03 L173.68,284.17 L172.51,284.31 L171.35,284.45 L170.19,284.59 L169.03,284.72 L167.87,284.86 L166.71,284.99 L165.54,285.12 L164.38,285.25 L163.22,285.38 L162.06,285.51 L160.90,285.64 L159.74,285.77 L158.57,285.90 L157.41,286.02 L156.25,286.15 L155.09,286.27 L153.93,286.40 L152.77,286.52 L151.60,286.64 L150.44,286.76 L149.28,286.88 L148.12,287.00 L146.96,287.12 L145.80,287.24 L144.63,287.35 L143.47,287.47 L142.31,287.59 L141.15,287.70 L139.99,287.81 L138.83,287.93 L137.66,288.04 L136.50,288.15 L135.34,288.26 L134.18,288.37 L133.02,288.48 L131.86,288.58 L130.69,288.69 L129.53,288.80 L128.37,288.90 L127.21,289.00 L126.05,289.11 L124.89,289.21 L123.72,289.31 L122.56,289.41 L121.40,289.51 L120.24,289.61 L119.08,289.71 L117.92,289.81 L116.75,289.91 L115.59,290.00 L114.43,290.10 L113.27,290.20 L112.11,290.29 L110.95,290.38 L109.78,290.48 L108.62,290.57 L107.46,290.66 L106.30,290.75 L105.14,290.84 L103.98,290.93 L102.81,291.01 L101.65,291.10 L100.49,291.19 L99.33,291.27 L98.17,291.36 L97.01,291.44 L95.84,291.52 L94.68,291.61 L93.52,291.69 L92.36,291.77 L91.20,291.85 L90.04,291.93 L88.87,292.01 L87.71,292.09 L86.55,292.16 L85.39,292.24 L84.23,292.32 L83.07,292.39 L81.90,292.47 L80.74,292.54 L79.58,292.61 L78.42,292.68 L77.26,292.76 L76.10,292.83 L74.93,292.90 L73.77,292.97 L72.61,293.03 L71.45,293.10 L70.29,293.17 L69.13,293.24 L67.96,293.30 L66.80,293.37 L65.64,293.43 L64.48,293.49 L63.32,293.56 L62.16,293.62 L60.99,293.68 L59.83,293.74 L58.67,293.80 L57.51,293.86 L56.35,293.92 L55.19,293.97 L54.02,294.03 L52.86,294.09 L51.70,294.14 L50.54,294.20 L49.38,294.25 L48.22,294.31 L47.05,294.36 L45.89,294.41 Z" fill="none" stroke="#22a05c" stroke-width="1.6" stroke-linejoin="round"/>
<path d="M45.89,299.38 L47.05,296.57 L48.22,294.06 L49.38,291.82 L50.54,289.79 L51.70,287.95 L52.86,286.28 L54.02,284.75 L55.19,283.34 L56.35,282.04 L57.51,280.83 L58.67,279.71 L59.83,278.66 L60.99,277.68 L62.16,276.77 L63.32,275.90 L64.48,275.09 L65.64,274.32 L66.80,273.60 L67.96,272.91 L69.13,272.26 L70.29,271.64 L71.45,271.06 L72.61,270.50 L73.77,269.97 L74.93,269.47 L76.10,268.99 L77.26,268.53 L78.42,268.10 L79.58,267.68 L80.74,267.28 L81.90,266.91 L83.07,266.55 L84.23,266.20 L85.39,265.87 L86.55,265.56 L87.71,265.26 L88.87,264.98 L90.04,264.70 L91.20,264.44 L92.36,264.19 L93.52,263.95 L94.68,263.72 L95.84,263.51 L97.01,263.30 L98.17,263.10 L99.33,262.91 L100.49,262.72 L101.65,262.55 L102.81,262.38 L103.98,262.22 L105.14,262.07 L106.30,261.92 L107.46,261.78 L108.62,261.65 L109.78,261.52 L110.95,261.39 L112.11,261.27 L113.27,261.16 L114.43,261.05 L115.59,260.95 L116.75,260.85 L117.92,260.75 L119.08,260.66 L120.24,260.57 L121.40,260.48 L122.56,260.40 L123.72,260.32 L124.89,260.25 L126.05,260.17 L127.21,260.10 L128.37,260.04 L129.53,259.97 L130.69,259.91 L131.86,259.85 L133.02,259.79 L134.18,259.73 L135.34,259.68 L136.50,259.63 L137.66,259.58 L138.83,259.53 L139.99,259.48 L141.15,259.44 L142.31,259.39 L143.47,259.35 L144.63,259.31 L145.80,259.27 L146.96,259.23 L148.12,259.19 L149.28,259.16 L150.44,259.12 L151.60,259.09 L152.77,259.05 L153.93,259.02 L155.09,258.99 L156.25,258.96 L157.41,258.93 L158.57,258.90 L159.74,258.87 L160.90,258.84 L162.06,258.82 L163.22,258.79 L164.38,258.77 L165.54,258.74 L166.71,258.72 L167.87,258.69 L169.03,258.67 L170.19,258.65 L171.35,258.62 L172.51,258.60 L173.68,258.58 L174.84,258.56 L176.00,258.54 L177.16,258.52 L178.32,258.50 L179.48,258.48 L180.65,258.46 L181.81,258.44 L182.97,258.42 L184.13,258.40 L185.29,258.38 L186.45,258.36 L187.62,258.34 L188.78,258.33 L189.94,258.31 L191.10,258.29 L192.26,258.28 L193.42,258.26 L194.59,258.24 L195.75,258.22 L196.91,258.21 L198.07,258.19 L199.23,258.18 L200.39,258.16 L201.56,258.14 L202.72,258.13 L203.88,258.11 L205.04,258.10 L206.20,258.08 L207.36,258.07 L208.53,258.05 L209.69,258.04 L210.85,258.02 L212.01,258.01 L213.17,257.99 L214.33,257.98 L215.50,257.96 L216.66,257.95 L217.82,257.93 L218.98,257.92 L220.14,257.90 L221.30,257.89 L222.47,257.88 L223.63,257.86 L224.79,257.85 L225.95,257.83 L227.11,257.82 L228.27,257.81 L229.44,257.79 L230.60,257.78 L229.44,259.96 L228.27,261.89 L227.11,263.60 L225.95,265.12 L224.79,266.47 L223.63,267.67 L222.47,268.76 L221.30,269.74 L220.14,270.62 L218.98,271.42 L217.82,272.16 L216.66,272.83 L215.50,273.45 L214.33,274.03 L213.17,274.57 L212.01,275.07 L210.85,275.54 L209.69,275.98 L208.53,276.41 L207.36,276.81 L206.20,277.19 L205.04,277.56 L203.88,277.92 L202.72,278.26 L201.56,278.59 L200.39,278.91 L199.23,279.23 L198.07,279.54 L196.91,279.84 L195.75,280.13 L194.59,280.42 L193.42,280.70 L192.26,280.98 L191.10,281.25 L189.94,281.52 L188.78,281.78 L187.62,282.05 L186.45,282.30 L185.29,282.56 L184.13,282.81 L182.97,283.06 L181.81,283.31 L180.65,283.55 L179.48,283.79 L178.32,284.03 L177.16,284.27 L176.00,284.50 L174.84,284.73 L173.68,284.96 L172.51,285.19 L171.35,285.42 L170.19,285.64 L169.03,285.86 L167.87,286.08 L166.71,286.30 L165.54,286.51 L164.38,286.72 L163.22,286.93 L162.06,287.14 L160.90,287.35 L159.74,287.55 L158.57,287.76 L157.41,287.96 L156.25,288.16 L155.09,288.35 L153.93,288.55 L152.77,288.74 L151.60,288.93 L150.44,289.12 L149.28,289.31 L148.12,289.50 L146.96,289.68 L145.80,289.86 L144.63,290.04 L143.47,290.22 L142.31,290.40 L141.15,290.57 L139.99,290.75 L138.83,290.92 L137.66,291.09 L136.50,291.26 L135.34,291.42 L134.18,291.59 L133.02,291.75 L131.86,291.91 L130.69,292.07 L129.53,292.22 L128.37,292.38 L127.21,292.53 L126.05,292.69 L124.89,292.84 L123.72,292.98 L122.56,293.13 L121.40,293.28 L120.24,293.42 L119.08,293.56 L117.92,293.70 L116.75,293.84 L115.59,293.98 L114.43,294.11 L113.27,294.25 L112.11,294.38 L110.95,294.51 L109.78,294.64 L108.62,294.76 L107.46,294.89 L106.30,295.01 L105.14,295.14 L103.98,295.26 L102.81,295.38 L101.65,295.49 L100.49,295.61 L99.33,295.72 L98.17,295.84 L97.01,295.95 L95.84,296.06 L94.68,296.16 L93.52,296.27 L92.36,296.38 L91.20,296.48 L90.04,296.58 L88.87,296.68 L87.71,296.78 L86.55,296.88 L85.39,296.97 L84.23,297.07 L83.07,297.16 L81.90,297.25 L80.74,297.34 L79.58,297.43 L78.42,297.52 L77.26,297.60 L76.10,297.69 L74.93,297.77 L73.77,297.85 L72.61,297.93 L71.45,298.01 L70.29,298.09 L69.13,298.16 L67.96,298.24 L66.80,298.31 L65.64,298.38 L64.48,298.45 L63.32,298.52 L62.16,298.59 L60.99,298.65 L59.83,298.72 L58.67,298.78 L57.51,298.84 L56.35,298.90 L55.19,298.96 L54.02,299.02 L52.86,299.07 L51.70,299.13 L50.54,299.18 L49.38,299.23 L48.22,299.28 L47.05,299.33 L45.89,299.38 Z" fill="none" stroke="#1a5fe0" stroke-width="1.6" stroke-linejoin="round"/>
<path d="M45.89,311.21 L47.05,308.13 L48.22,305.26 L49.38,302.60 L50.54,300.12 L51.70,297.81 L52.86,295.65 L54.02,293.64 L55.19,291.75 L56.35,289.99 L57.51,288.33 L58.67,286.77 L59.83,285.30 L60.99,283.92 L62.16,282.62 L63.32,281.38 L64.48,280.21 L65.64,279.10 L66.80,278.05 L67.96,277.05 L69.13,276.10 L70.29,275.19 L71.45,274.32 L72.61,273.49 L73.77,272.70 L74.93,271.94 L76.10,271.21 L77.26,270.52 L78.42,269.84 L79.58,269.20 L80.74,268.58 L81.90,267.98 L83.07,267.40 L84.23,266.84 L85.39,266.31 L86.55,265.79 L87.71,265.28 L88.87,264.80 L90.04,264.33 L91.20,263.87 L92.36,263.43 L93.52,263.00 L94.68,262.58 L95.84,262.18 L97.01,261.79 L98.17,261.41 L99.33,261.04 L100.49,260.68 L101.65,260.33 L102.81,259.99 L103.98,259.66 L105.14,259.34 L106.30,259.03 L107.46,258.72 L108.62,258.43 L109.78,258.14 L110.95,257.86 L112.11,257.59 L113.27,257.32 L114.43,257.06 L115.59,256.81 L116.75,256.57 L117.92,256.33 L119.08,256.09 L120.24,255.87 L121.40,255.65 L122.56,255.43 L123.72,255.22 L124.89,255.02 L126.05,254.82 L127.21,254.62 L128.37,254.43 L129.53,254.25 L130.69,254.07 L131.86,253.90 L133.02,253.73 L134.18,253.56 L135.34,253.40 L136.50,253.24 L137.66,253.09 L138.83,252.94 L139.99,252.79 L141.15,252.65 L142.31,252.52 L143.47,252.38 L144.63,252.25 L145.80,252.12 L146.96,252.00 L148.12,251.88 L149.28,251.76 L150.44,251.65 L151.60,251.54 L152.77,251.43 L153.93,251.32 L155.09,251.22 L156.25,251.12 L157.41,251.03 L158.57,250.93 L159.74,250.84 L160.90,250.75 L162.06,250.67 L163.22,250.58 L164.38,250.50 L165.54,250.42 L166.71,250.34 L167.87,250.27 L169.03,250.20 L170.19,250.13 L171.35,250.06 L172.51,249.99 L173.68,249.93 L174.84,249.87 L176.00,249.81 L177.16,249.75 L178.32,249.69 L179.48,249.64 L180.65,249.58 L181.81,249.53 L182.97,249.48 L184.13,249.43 L185.29,249.39 L186.45,249.34 L187.62,249.30 L188.78,249.26 L189.94,249.22 L191.10,249.18 L192.26,249.14 L193.42,249.10 L194.59,249.07 L195.75,249.03 L196.91,249.00 L198.07,248.97 L199.23,248.94 L200.39,248.91 L201.56,248.88 L202.72,248.86 L203.88,248.83 L205.04,248.81 L206.20,248.78 L207.36,248.76 L208.53,248.74 L209.69,248.72 L210.85,248.70 L212.01,248.68 L213.17,248.67 L214.33,248.65 L215.50,248.63 L216.66,248.62 L217.82,248.60 L218.98,248.59 L220.14,248.58 L221.30,248.57 L222.47,248.56 L223.63,248.55 L224.79,248.54 L225.95,248.53 L227.11,248.52 L228.27,248.51 L229.44,248.51 L230.60,248.50 L229.44,251.21 L228.27,253.64 L227.11,255.85 L225.95,257.84 L224.79,259.65 L223.63,261.30 L222.47,262.80 L221.30,264.18 L220.14,265.44 L218.98,266.60 L217.82,267.67 L216.66,268.67 L215.50,269.59 L214.33,270.45 L213.17,271.26 L212.01,272.02 L210.85,272.74 L209.69,273.41 L208.53,274.06 L207.36,274.67 L206.20,275.25 L205.04,275.82 L203.88,276.35 L202.72,276.87 L201.56,277.38 L200.39,277.86 L199.23,278.33 L198.07,278.79 L196.91,279.24 L195.75,279.68 L194.59,280.11 L193.42,280.53 L192.26,280.94 L191.10,281.34 L189.94,281.74 L188.78,282.13 L187.62,282.51 L186.45,282.89 L185.29,283.27 L184.13,283.64 L182.97,284.00 L181.81,284.36 L180.65,284.72 L179.48,285.08 L178.32,285.43 L177.16,285.77 L176.00,286.12 L174.84,286.46 L173.68,286.80 L172.51,287.13 L171.35,287.46 L170.19,287.79 L169.03,288.12 L167.87,288.44 L166.71,288.76 L165.54,289.08 L164.38,289.40 L163.22,289.71 L162.06,290.02 L160.90,290.33 L159.74,290.64 L158.57,290.94 L157.41,291.25 L156.25,291.54 L155.09,291.84 L153.93,292.14 L152.77,292.43 L151.60,292.72 L150.44,293.01 L149.28,293.30 L148.12,293.58 L146.96,293.86 L145.80,294.14 L144.63,294.42 L143.47,294.70 L142.31,294.97 L141.15,295.24 L139.99,295.51 L138.83,295.78 L137.66,296.05 L136.50,296.31 L135.34,296.57 L134.18,296.83 L133.02,297.09 L131.86,297.35 L130.69,297.60 L129.53,297.85 L128.37,298.10 L127.21,298.35 L126.05,298.59 L124.89,298.84 L123.72,299.08 L122.56,299.32 L121.40,299.56 L120.24,299.79 L119.08,300.03 L117.92,300.26 L116.75,300.49 L115.59,300.72 L114.43,300.95 L113.27,301.17 L112.11,301.39 L110.95,301.62 L109.78,301.83 L108.62,302.05 L107.46,302.27 L106.30,302.48 L105.14,302.69 L103.98,302.90 L102.81,303.11 L101.65,303.32 L100.49,303.52 L99.33,303.72 L98.17,303.93 L97.01,304.12 L95.84,304.32 L94.68,304.52 L93.52,304.71 L92.36,304.90 L91.20,305.09 L90.04,305.28 L88.87,305.47 L87.71,305.65 L86.55,305.84 L85.39,306.02 L84.23,306.20 L83.07,306.38 L81.90,306.55 L80.74,306.73 L79.58,306.90 L78.42,307.07 L77.26,307.24 L76.10,307.41 L74.93,307.58 L73.77,307.74 L72.61,307.91 L71.45,308.07 L70.29,308.23 L69.13,308.39 L67.96,308.54 L66.80,308.70 L65.64,308.85 L64.48,309.00 L63.32,309.15 L62.16,309.30 L60.99,309.45 L59.83,309.59 L58.67,309.74 L57.51,309.88 L56.35,310.02 L55.19,310.16 L54.02,310.30 L52.86,310.43 L51.70,310.57 L50.54,310.70 L49.38,310.83 L48.22,310.96 L47.05,311.09 L45.89,311.21 Z" fill="none" stroke="#ee3333" stroke-width="1.6" stroke-linejoin="round"/>
<path d="M45.89,332.32 L47.05,324.30 L48.22,320.44 L49.38,317.80 L50.54,315.55 L51.70,313.45 L52.86,311.42 L54.02,309.45 L55.19,307.54 L56.35,305.67 L57.51,303.85 L58.67,302.08 L59.83,300.35 L60.99,298.66 L62.16,297.02 L63.32,295.42 L64.48,293.86 L65.64,292.33 L66.80,290.85 L67.96,289.40 L69.13,287.99 L70.29,286.61 L71.45,285.27 L72.61,283.96 L73.77,282.69 L74.93,281.44 L76.10,280.23 L77.26,279.05 L78.42,277.89 L79.58,276.77 L80.74,275.67 L81.90,274.60 L83.07,273.56 L84.23,272.54 L85.39,271.55 L86.55,270.58 L87.71,269.64 L88.87,268.71 L90.04,267.82 L91.20,266.94 L92.36,266.08 L93.52,265.25 L94.68,264.44 L95.84,263.64 L97.01,262.87 L98.17,262.11 L99.33,261.38 L100.49,260.66 L101.65,259.96 L102.81,259.27 L103.98,258.61 L105.14,257.95 L106.30,257.32 L107.46,256.70 L108.62,256.09 L109.78,255.50 L110.95,254.92 L112.11,254.36 L113.27,253.81 L114.43,253.27 L115.59,252.75 L116.75,252.24 L117.92,251.74 L119.08,251.25 L120.24,250.78 L121.40,250.31 L122.56,249.86 L123.72,249.41 L124.89,248.98 L126.05,248.56 L127.21,248.15 L128.37,247.74 L129.53,247.35 L130.69,246.96 L131.86,246.59 L133.02,246.22 L134.18,245.86 L135.34,245.51 L136.50,245.17 L137.66,244.83 L138.83,244.51 L139.99,244.19 L141.15,243.88 L142.31,243.57 L143.47,243.27 L144.63,242.98 L145.80,242.69 L146.96,242.41 L148.12,242.14 L149.28,241.87 L150.44,241.61 L151.60,241.36 L152.77,241.11 L153.93,240.86 L155.09,240.62 L156.25,240.39 L157.41,240.16 L158.57,239.94 L159.74,239.72 L160.90,239.50 L162.06,239.29 L163.22,239.09 L164.38,238.88 L165.54,238.69 L166.71,238.49 L167.87,238.30 L169.03,238.12 L170.19,237.94 L171.35,237.76 L172.51,237.58 L173.68,237.41 L174.84,237.25 L176.00,237.08 L177.16,236.92 L178.32,236.76 L179.48,236.61 L180.65,236.45 L181.81,236.31 L182.97,236.16 L184.13,236.02 L185.29,235.87 L186.45,235.74 L187.62,235.60 L188.78,235.47 L189.94,235.34 L191.10,235.21 L192.26,235.08 L193.42,234.96 L194.59,234.84 L195.75,234.72 L196.91,234.60 L198.07,234.48 L199.23,234.37 L200.39,234.26 L201.56,234.15 L202.72,234.04 L203.88,233.93 L205.04,233.83 L206.20,233.73 L207.36,233.63 L208.53,233.53 L209.69,233.43 L210.85,233.33 L212.01,233.24 L213.17,233.14 L214.33,233.05 L215.50,232.96 L216.66,232.87 L217.82,232.78 L218.98,232.70 L220.14,232.61 L221.30,232.53 L222.47,232.44 L223.63,232.36 L224.79,232.28 L225.95,232.20 L227.11,232.12 L228.27,232.04 L229.44,231.96 L230.60,231.89 L229.44,234.20 L228.27,236.42 L227.11,238.55 L225.95,240.59 L224.79,242.55 L223.63,244.43 L222.47,246.24 L221.30,247.98 L220.14,249.65 L218.98,251.26 L217.82,252.81 L216.66,254.31 L215.50,255.74 L214.33,257.13 L213.17,258.47 L212.01,259.77 L210.85,261.01 L209.69,262.22 L208.53,263.39 L207.36,264.52 L206.20,265.62 L205.04,266.68 L203.88,267.71 L202.72,268.71 L201.56,269.68 L200.39,270.62 L199.23,271.54 L198.07,272.43 L196.91,273.30 L195.75,274.14 L194.59,274.97 L193.42,275.77 L192.26,276.56 L191.10,277.32 L189.94,278.07 L188.78,278.80 L187.62,279.52 L186.45,280.22 L185.29,280.91 L184.13,281.58 L182.97,282.25 L181.81,282.89 L180.65,283.53 L179.48,284.16 L178.32,284.77 L177.16,285.38 L176.00,285.97 L174.84,286.56 L173.68,287.14 L172.51,287.71 L171.35,288.27 L170.19,288.82 L169.03,289.37 L167.87,289.91 L166.71,290.44 L165.54,290.97 L164.38,291.49 L163.22,292.00 L162.06,292.51 L160.90,293.02 L159.74,293.51 L158.57,294.01 L157.41,294.50 L156.25,294.98 L155.09,295.46 L153.93,295.94 L152.77,296.41 L151.60,296.88 L150.44,297.35 L149.28,297.81 L148.12,298.27 L146.96,298.73 L145.80,299.18 L144.63,299.63 L143.47,300.07 L142.31,300.52 L141.15,300.96 L139.99,301.40 L138.83,301.84 L137.66,302.27 L136.50,302.70 L135.34,303.13 L134.18,303.56 L133.02,303.98 L131.86,304.41 L130.69,304.83 L129.53,305.25 L128.37,305.67 L127.21,306.08 L126.05,306.50 L124.89,306.91 L123.72,307.32 L122.56,307.73 L121.40,308.14 L120.24,308.54 L119.08,308.95 L117.92,309.35 L116.75,309.75 L115.59,310.15 L114.43,310.55 L113.27,310.95 L112.11,311.35 L110.95,311.74 L109.78,312.14 L108.62,312.53 L107.46,312.92 L106.30,313.31 L105.14,313.70 L103.98,314.09 L102.81,314.48 L101.65,314.86 L100.49,315.25 L99.33,315.63 L98.17,316.01 L97.01,316.40 L95.84,316.78 L94.68,317.16 L93.52,317.54 L92.36,317.91 L91.20,318.29 L90.04,318.67 L88.87,319.04 L87.71,319.42 L86.55,319.79 L85.39,320.16 L84.23,320.53 L83.07,320.90 L81.90,321.27 L80.74,321.64 L79.58,322.01 L78.42,322.38 L77.26,322.74 L76.10,323.11 L74.93,323.47 L73.77,323.84 L72.61,324.20 L71.45,324.56 L70.29,324.92 L69.13,325.28 L67.96,325.64 L66.80,326.00 L65.64,326.36 L64.48,326.71 L63.32,327.07 L62.16,327.43 L60.99,327.78 L59.83,328.14 L58.67,328.49 L57.51,328.84 L56.35,329.19 L55.19,329.54 L54.02,329.89 L52.86,330.24 L51.70,330.59 L50.54,330.94 L49.38,331.29 L48.22,331.63 L47.05,331.98 L45.89,332.32 Z" fill="none" stroke="#3c3c3c" stroke-width="1.6" stroke-linejoin="round"/>
<rect x="270.3" y="209.8" width="204.89999999999998" height="141.39999999999998" fill="none" stroke="#111" stroke-width="1.3"/>
<line x1="267.10" y1="351.08" x2="270.30" y2="351.08" stroke="#111" stroke-width="1.0"/>
<text transform="translate(265.00 353.18) scale(1.050 1)" font-family="'Liberation Sans', sans-serif" font-size="8.0" text-anchor="end" fill="#000" stroke="#000" stroke-width="0.15" style="font-kerning:none">-16</text>
<line x1="267.10" y1="332.36" x2="270.30" y2="332.36" stroke="#111" stroke-width="1.0"/>
<text transform="translate(265.00 334.46) scale(1.050 1)" font-family="'Liberation Sans', sans-serif" font-size="8.0" text-anchor="end" fill="#000" stroke="#000" stroke-width="0.15" style="font-kerning:none">-12</text>
<line x1="267.10" y1="313.64" x2="270.30" y2="313.64" stroke="#111" stroke-width="1.0"/>
<text transform="translate(265.00 315.74) scale(1.050 1)" font-family="'Liberation Sans', sans-serif" font-size="8.0" text-anchor="end" fill="#000" stroke="#000" stroke-width="0.15" style="font-kerning:none">-8</text>
<line x1="267.10" y1="294.92" x2="270.30" y2="294.92" stroke="#111" stroke-width="1.0"/>
<text transform="translate(265.00 297.02) scale(1.050 1)" font-family="'Liberation Sans', sans-serif" font-size="8.0" text-anchor="end" fill="#000" stroke="#000" stroke-width="0.15" style="font-kerning:none">-4</text>
<line x1="267.10" y1="276.20" x2="270.30" y2="276.20" stroke="#111" stroke-width="1.0"/>
<text transform="translate(265.00 278.30) scale(1.050 1)" font-family="'Liberation Sans', sans-serif" font-size="8.0" text-anchor="end" fill="#000" stroke="#000" stroke-width="0.15" style="font-kerning:none">0</text>
<line x1="267.10" y1="257.48" x2="270.30" y2="257.48" stroke="#111" stroke-width="1.0"/>
<text transform="translate(265.00 259.58) scale(1.050 1)" font-family="'Liberation Sans', sans-serif" font-size="8.0" text-anchor="end" fill="#000" stroke="#000" stroke-width="0.15" style="font-kerning:none">4</text>
<line x1="267.10" y1="238.76" x2="270.30" y2="238.76" stroke="#111" stroke-width="1.0"/>
<text transform="translate(265.00 240.86) scale(1.050 1)" font-family="'Liberation Sans', sans-serif" font-size="8.0" text-anchor="end" fill="#000" stroke="#000" stroke-width="0.15" style="font-kerning:none">8</text>
<line x1="267.10" y1="220.04" x2="270.30" y2="220.04" stroke="#111" stroke-width="1.0"/>
<text transform="translate(265.00 222.14) scale(1.050 1)" font-family="'Liberation Sans', sans-serif" font-size="8.0" text-anchor="end" fill="#000" stroke="#000" stroke-width="0.15" style="font-kerning:none">12</text>
<line x1="268.50" y1="341.72" x2="270.30" y2="341.72" stroke="#111" stroke-width="0.9"/>
<line x1="268.50" y1="323.00" x2="270.30" y2="323.00" stroke="#111" stroke-width="0.9"/>
<line x1="268.50" y1="304.28" x2="270.30" y2="304.28" stroke="#111" stroke-width="0.9"/>
<line x1="268.50" y1="285.56" x2="270.30" y2="285.56" stroke="#111" stroke-width="0.9"/>
<line x1="268.50" y1="266.84" x2="270.30" y2="266.84" stroke="#111" stroke-width="0.9"/>
<line x1="268.50" y1="248.12" x2="270.30" y2="248.12" stroke="#111" stroke-width="0.9"/>
<line x1="268.50" y1="229.40" x2="270.30" y2="229.40" stroke="#111" stroke-width="0.9"/>
<line x1="301.00" y1="351.20" x2="301.00" y2="354.20" stroke="#111" stroke-width="1.0"/>
<text transform="translate(301.00 361.20) scale(1.050 1)" font-family="'Liberation Sans', sans-serif" font-size="8.0" text-anchor="middle" fill="#000" stroke="#000" stroke-width="0.15" style="font-kerning:none">-0.8</text>
<line x1="342.00" y1="351.20" x2="342.00" y2="354.20" stroke="#111" stroke-width="1.0"/>
<text transform="translate(342.00 361.20) scale(1.050 1)" font-family="'Liberation Sans', sans-serif" font-size="8.0" text-anchor="middle" fill="#000" stroke="#000" stroke-width="0.15" style="font-kerning:none">-0.6</text>
<line x1="383.00" y1="351.20" x2="383.00" y2="354.20" stroke="#111" stroke-width="1.0"/>
<text transform="translate(383.00 361.20) scale(1.050 1)" font-family="'Liberation Sans', sans-serif" font-size="8.0" text-anchor="middle" fill="#000" stroke="#000" stroke-width="0.15" style="font-kerning:none">-0.4</text>
<line x1="424.00" y1="351.20" x2="424.00" y2="354.20" stroke="#111" stroke-width="1.0"/>
<text transform="translate(424.00 361.20) scale(1.050 1)" font-family="'Liberation Sans', sans-serif" font-size="8.0" text-anchor="middle" fill="#000" stroke="#000" stroke-width="0.15" style="font-kerning:none">-0.2</text>
<line x1="465.00" y1="351.20" x2="465.00" y2="354.20" stroke="#111" stroke-width="1.0"/>
<text transform="translate(465.00 361.20) scale(1.050 1)" font-family="'Liberation Sans', sans-serif" font-size="8.0" text-anchor="middle" fill="#000" stroke="#000" stroke-width="0.15" style="font-kerning:none">0.0</text>
<line x1="280.50" y1="351.20" x2="280.50" y2="353.00" stroke="#111" stroke-width="0.9"/>
<line x1="321.50" y1="351.20" x2="321.50" y2="353.00" stroke="#111" stroke-width="0.9"/>
<line x1="362.50" y1="351.20" x2="362.50" y2="353.00" stroke="#111" stroke-width="0.9"/>
<line x1="403.50" y1="351.20" x2="403.50" y2="353.00" stroke="#111" stroke-width="0.9"/>
<line x1="444.50" y1="351.20" x2="444.50" y2="353.00" stroke="#111" stroke-width="0.9"/>
<text x="244.90" y="208.08" font-family="'Liberation Serif', serif" font-weight="bold" font-size="18.85" fill="#000">(<tspan font-size="19.80" dy="1.5">d</tspan><tspan dy="-1.5" dx="0.9">)</tspan></text>
<path d="M280.29,280.88 L281.45,278.67 L282.61,277.19 L283.77,276.10 L284.93,275.27 L286.09,274.62 L287.25,274.12 L288.41,273.73 L289.57,273.42 L290.73,273.18 L291.89,272.99 L293.05,272.85 L294.21,272.73 L295.37,272.64 L296.53,272.56 L297.69,272.50 L298.85,272.46 L300.01,272.42 L301.17,272.39 L302.33,272.36 L303.49,272.34 L304.65,272.32 L305.81,272.31 L306.97,272.29 L308.13,272.28 L309.29,272.27 L310.45,272.26 L311.61,272.25 L312.77,272.24 L313.93,272.23 L315.09,272.23 L316.25,272.22 L317.41,272.21 L318.57,272.20 L319.73,272.20 L320.89,272.19 L322.05,272.18 L323.21,272.18 L324.36,272.17 L325.52,272.16 L326.68,272.16 L327.84,272.15 L329.00,272.14 L330.16,272.14 L331.32,272.13 L332.48,272.12 L333.64,272.12 L334.80,272.11 L335.96,272.10 L337.12,272.10 L338.28,272.09 L339.44,272.09 L340.60,272.08 L341.76,272.07 L342.92,272.07 L344.08,272.06 L345.24,272.05 L346.40,272.05 L347.56,272.04 L348.72,272.03 L349.88,272.03 L351.04,272.02 L352.20,272.01 L353.36,272.01 L354.52,272.00 L355.68,271.99 L356.84,271.99 L358.00,271.98 L359.16,271.97 L360.32,271.97 L361.48,271.96 L362.64,271.95 L363.80,271.95 L364.96,271.94 L366.12,271.94 L367.27,271.93 L368.43,271.92 L369.59,271.92 L370.75,271.91 L371.91,271.90 L373.07,271.90 L374.23,271.89 L375.39,271.88 L376.55,271.88 L377.71,271.87 L378.87,271.86 L380.03,271.86 L381.19,271.85 L382.35,271.84 L383.51,271.84 L384.67,271.83 L385.83,271.82 L386.99,271.82 L388.15,271.81 L389.31,271.80 L390.47,271.80 L391.63,271.79 L392.79,271.78 L393.95,271.78 L395.11,271.77 L396.27,271.77 L397.43,271.76 L398.59,271.75 L399.75,271.75 L400.91,271.74 L402.07,271.73 L403.23,271.73 L404.39,271.72 L405.55,271.71 L406.71,271.71 L407.87,271.70 L409.03,271.69 L410.19,271.69 L411.34,271.68 L412.50,271.67 L413.66,271.67 L414.82,271.66 L415.98,271.65 L417.14,271.65 L418.30,271.64 L419.46,271.63 L420.62,271.63 L421.78,271.62 L422.94,271.61 L424.10,271.61 L425.26,271.60 L426.42,271.60 L427.58,271.59 L428.74,271.58 L429.90,271.58 L431.06,271.57 L432.22,271.56 L433.38,271.56 L434.54,271.55 L435.70,271.54 L436.86,271.54 L438.02,271.53 L439.18,271.52 L440.34,271.52 L441.50,271.51 L442.66,271.50 L443.82,271.50 L444.98,271.49 L446.14,271.48 L447.30,271.48 L448.46,271.47 L449.62,271.46 L450.78,271.46 L451.94,271.45 L453.10,271.44 L454.25,271.44 L455.41,271.43 L456.57,271.43 L457.73,271.42 L458.89,271.41 L460.05,271.41 L461.21,271.40 L462.37,271.39 L463.53,271.39 L464.69,271.38 L463.53,273.63 L462.37,275.22 L461.21,276.38 L460.05,277.24 L458.89,277.88 L457.73,278.37 L456.57,278.73 L455.41,279.00 L454.25,279.21 L453.10,279.36 L451.94,279.48 L450.78,279.57 L449.62,279.64 L448.46,279.69 L447.30,279.74 L446.14,279.77 L444.98,279.79 L443.82,279.82 L442.66,279.83 L441.50,279.85 L440.34,279.86 L439.18,279.87 L438.02,279.89 L436.86,279.90 L435.70,279.90 L434.54,279.91 L433.38,279.92 L432.22,279.93 L431.06,279.94 L429.90,279.94 L428.74,279.95 L427.58,279.96 L426.42,279.97 L425.26,279.97 L424.10,279.98 L422.94,279.99 L421.78,280.00 L420.62,280.00 L419.46,280.01 L418.30,280.02 L417.14,280.03 L415.98,280.03 L414.82,280.04 L413.66,280.05 L412.50,280.05 L411.34,280.06 L410.19,280.07 L409.03,280.08 L407.87,280.08 L406.71,280.09 L405.55,280.10 L404.39,280.11 L403.23,280.11 L402.07,280.12 L400.91,280.13 L399.75,280.13 L398.59,280.14 L397.43,280.15 L396.27,280.16 L395.11,280.16 L393.95,280.17 L392.79,280.18 L391.63,280.18 L390.47,280.19 L389.31,280.20 L388.15,280.21 L386.99,280.21 L385.83,280.22 L384.67,280.23 L383.51,280.24 L382.35,280.24 L381.19,280.25 L380.03,280.26 L378.87,280.26 L377.71,280.27 L376.55,280.28 L375.39,280.29 L374.23,280.29 L373.07,280.30 L371.91,280.31 L370.75,280.32 L369.59,280.32 L368.43,280.33 L367.27,280.34 L366.12,280.34 L364.96,280.35 L363.80,280.36 L362.64,280.37 L361.48,280.37 L360.32,280.38 L359.16,280.39 L358.00,280.39 L356.84,280.40 L355.68,280.41 L354.52,280.42 L353.36,280.42 L352.20,280.43 L351.04,280.44 L349.88,280.45 L348.72,280.45 L347.56,280.46 L346.40,280.47 L345.24,280.47 L344.08,280.48 L342.92,280.49 L341.76,280.50 L340.60,280.50 L339.44,280.51 L338.28,280.52 L337.12,280.53 L335.96,280.53 L334.80,280.54 L333.64,280.55 L332.48,280.55 L331.32,280.56 L330.16,280.57 L329.00,280.58 L327.84,280.58 L326.68,280.59 L325.52,280.60 L324.36,280.60 L323.21,280.61 L322.05,280.62 L320.89,280.63 L319.73,280.63 L318.57,280.64 L317.41,280.65 L316.25,280.66 L315.09,280.66 L313.93,280.67 L312.77,280.68 L311.61,280.68 L310.45,280.69 L309.29,280.70 L308.13,280.71 L306.97,280.71 L305.81,280.72 L304.65,280.73 L303.49,280.74 L302.33,280.74 L301.17,280.75 L300.01,280.76 L298.85,280.76 L297.69,280.77 L296.53,280.78 L295.37,280.79 L294.21,280.79 L293.05,280.80 L291.89,280.81 L290.73,280.81 L289.57,280.82 L288.41,280.83 L287.25,280.84 L286.09,280.84 L284.93,280.85 L283.77,280.86 L282.61,280.87 L281.45,280.87 L280.29,280.88 Z" fill="none" stroke="#16c8d0" stroke-width="1.6" stroke-linejoin="round"/>
<path d="M280.29,285.00 L281.45,281.87 L282.61,279.44 L283.77,277.53 L284.93,276.04 L286.09,274.86 L287.25,273.92 L288.41,273.18 L289.57,272.58 L290.73,272.09 L291.89,271.70 L293.05,271.37 L294.21,271.10 L295.37,270.87 L296.53,270.67 L297.69,270.50 L298.85,270.35 L300.01,270.22 L301.17,270.10 L302.33,270.00 L303.49,269.90 L304.65,269.81 L305.81,269.73 L306.97,269.65 L308.13,269.58 L309.29,269.52 L310.45,269.45 L311.61,269.40 L312.77,269.34 L313.93,269.29 L315.09,269.24 L316.25,269.19 L317.41,269.14 L318.57,269.10 L319.73,269.06 L320.89,269.02 L322.05,268.98 L323.21,268.95 L324.36,268.92 L325.52,268.88 L326.68,268.85 L327.84,268.82 L329.00,268.79 L330.16,268.77 L331.32,268.74 L332.48,268.72 L333.64,268.69 L334.80,268.67 L335.96,268.65 L337.12,268.63 L338.28,268.61 L339.44,268.59 L340.60,268.57 L341.76,268.56 L342.92,268.54 L344.08,268.53 L345.24,268.51 L346.40,268.50 L347.56,268.48 L348.72,268.47 L349.88,268.46 L351.04,268.45 L352.20,268.43 L353.36,268.42 L354.52,268.41 L355.68,268.40 L356.84,268.39 L358.00,268.38 L359.16,268.38 L360.32,268.37 L361.48,268.36 L362.64,268.35 L363.80,268.35 L364.96,268.34 L366.12,268.33 L367.27,268.33 L368.43,268.32 L369.59,268.31 L370.75,268.31 L371.91,268.30 L373.07,268.30 L374.23,268.29 L375.39,268.29 L376.55,268.29 L377.71,268.28 L378.87,268.28 L380.03,268.27 L381.19,268.27 L382.35,268.27 L383.51,268.26 L384.67,268.26 L385.83,268.26 L386.99,268.25 L388.15,268.25 L389.31,268.25 L390.47,268.25 L391.63,268.24 L392.79,268.24 L393.95,268.24 L395.11,268.24 L396.27,268.24 L397.43,268.23 L398.59,268.23 L399.75,268.23 L400.91,268.23 L402.07,268.23 L403.23,268.23 L404.39,268.22 L405.55,268.22 L406.71,268.22 L407.87,268.22 L409.03,268.22 L410.19,268.22 L411.34,268.22 L412.50,268.22 L413.66,268.21 L414.82,268.21 L415.98,268.21 L417.14,268.21 L418.30,268.21 L419.46,268.21 L420.62,268.21 L421.78,268.21 L422.94,268.21 L424.10,268.21 L425.26,268.21 L426.42,268.21 L427.58,268.21 L428.74,268.21 L429.90,268.20 L431.06,268.20 L432.22,268.20 L433.38,268.20 L434.54,268.20 L435.70,268.20 L436.86,268.20 L438.02,268.20 L439.18,268.20 L440.34,268.20 L441.50,268.20 L442.66,268.20 L443.82,268.20 L444.98,268.20 L446.14,268.20 L447.30,268.20 L448.46,268.20 L449.62,268.20 L450.78,268.20 L451.94,268.20 L453.10,268.20 L454.25,268.20 L455.41,268.20 L456.57,268.20 L457.73,268.20 L458.89,268.20 L460.05,268.20 L461.21,268.20 L462.37,268.20 L463.53,268.20 L464.69,268.20 L463.53,270.93 L462.37,272.77 L461.21,274.12 L460.05,275.18 L458.89,276.05 L457.73,276.78 L456.57,277.43 L455.41,277.99 L454.25,278.50 L453.10,278.95 L451.94,279.36 L450.78,279.72 L449.62,280.05 L448.46,280.34 L447.30,280.61 L446.14,280.85 L444.98,281.06 L443.82,281.26 L442.66,281.43 L441.50,281.59 L440.34,281.74 L439.18,281.87 L438.02,281.99 L436.86,282.10 L435.70,282.20 L434.54,282.29 L433.38,282.37 L432.22,282.45 L431.06,282.52 L429.90,282.58 L428.74,282.64 L427.58,282.69 L426.42,282.74 L425.26,282.79 L424.10,282.83 L422.94,282.87 L421.78,282.91 L420.62,282.95 L419.46,282.98 L418.30,283.01 L417.14,283.04 L415.98,283.07 L414.82,283.10 L413.66,283.12 L412.50,283.15 L411.34,283.17 L410.19,283.20 L409.03,283.22 L407.87,283.24 L406.71,283.26 L405.55,283.28 L404.39,283.30 L403.23,283.32 L402.07,283.34 L400.91,283.36 L399.75,283.38 L398.59,283.39 L397.43,283.41 L396.27,283.43 L395.11,283.45 L393.95,283.46 L392.79,283.48 L391.63,283.50 L390.47,283.51 L389.31,283.53 L388.15,283.55 L386.99,283.56 L385.83,283.58 L384.67,283.60 L383.51,283.61 L382.35,283.63 L381.19,283.64 L380.03,283.66 L378.87,283.68 L377.71,283.69 L376.55,283.71 L375.39,283.72 L374.23,283.74 L373.07,283.76 L371.91,283.77 L370.75,283.79 L369.59,283.80 L368.43,283.82 L367.27,283.83 L366.12,283.85 L364.96,283.87 L363.80,283.88 L362.64,283.90 L361.48,283.91 L360.32,283.93 L359.16,283.94 L358.00,283.96 L356.84,283.97 L355.68,283.99 L354.52,284.01 L353.36,284.02 L352.20,284.04 L351.04,284.05 L349.88,284.07 L348.72,284.08 L347.56,284.10 L346.40,284.11 L345.24,284.13 L344.08,284.15 L342.92,284.16 L341.76,284.18 L340.60,284.19 L339.44,284.21 L338.28,284.22 L337.12,284.24 L335.96,284.25 L334.80,284.27 L333.64,284.28 L332.48,284.30 L331.32,284.32 L330.16,284.33 L329.00,284.35 L327.84,284.36 L326.68,284.38 L325.52,284.39 L324.36,284.41 L323.21,284.42 L322.05,284.44 L320.89,284.46 L319.73,284.47 L318.57,284.49 L317.41,284.50 L316.25,284.52 L315.09,284.53 L313.93,284.55 L312.77,284.56 L311.61,284.58 L310.45,284.60 L309.29,284.61 L308.13,284.63 L306.97,284.64 L305.81,284.66 L304.65,284.67 L303.49,284.69 L302.33,284.70 L301.17,284.72 L300.01,284.73 L298.85,284.75 L297.69,284.77 L296.53,284.78 L295.37,284.80 L294.21,284.81 L293.05,284.83 L291.89,284.84 L290.73,284.86 L289.57,284.87 L288.41,284.89 L287.25,284.91 L286.09,284.92 L284.93,284.94 L283.77,284.95 L282.61,284.97 L281.45,284.98 L280.29,285.00 Z" fill="none" stroke="#d49a14" stroke-width="1.6" stroke-linejoin="round"/>
<path d="M280.29,293.00 L281.45,289.73 L282.61,287.17 L283.77,284.96 L284.93,282.97 L286.09,281.16 L287.25,279.52 L288.41,278.01 L289.57,276.64 L290.73,275.38 L291.89,274.24 L293.05,273.19 L294.21,272.23 L295.37,271.36 L296.53,270.56 L297.69,269.83 L298.85,269.16 L300.01,268.55 L301.17,267.99 L302.33,267.48 L303.49,267.01 L304.65,266.59 L305.81,266.19 L306.97,265.84 L308.13,265.51 L309.29,265.21 L310.45,264.93 L311.61,264.68 L312.77,264.45 L313.93,264.23 L315.09,264.04 L316.25,263.86 L317.41,263.69 L318.57,263.54 L319.73,263.40 L320.89,263.27 L322.05,263.15 L323.21,263.04 L324.36,262.94 L325.52,262.85 L326.68,262.76 L327.84,262.68 L329.00,262.61 L330.16,262.54 L331.32,262.47 L332.48,262.41 L333.64,262.36 L334.80,262.31 L335.96,262.26 L337.12,262.21 L338.28,262.17 L339.44,262.13 L340.60,262.09 L341.76,262.06 L342.92,262.02 L344.08,261.99 L345.24,261.96 L346.40,261.93 L347.56,261.90 L348.72,261.88 L349.88,261.85 L351.04,261.83 L352.20,261.80 L353.36,261.78 L354.52,261.76 L355.68,261.74 L356.84,261.72 L358.00,261.70 L359.16,261.68 L360.32,261.66 L361.48,261.64 L362.64,261.62 L363.80,261.61 L364.96,261.59 L366.12,261.57 L367.27,261.55 L368.43,261.54 L369.59,261.52 L370.75,261.51 L371.91,261.49 L373.07,261.48 L374.23,261.46 L375.39,261.45 L376.55,261.43 L377.71,261.42 L378.87,261.40 L380.03,261.39 L381.19,261.37 L382.35,261.36 L383.51,261.34 L384.67,261.33 L385.83,261.31 L386.99,261.30 L388.15,261.29 L389.31,261.27 L390.47,261.26 L391.63,261.24 L392.79,261.23 L393.95,261.21 L395.11,261.20 L396.27,261.19 L397.43,261.17 L398.59,261.16 L399.75,261.15 L400.91,261.13 L402.07,261.12 L403.23,261.10 L404.39,261.09 L405.55,261.08 L406.71,261.06 L407.87,261.05 L409.03,261.04 L410.19,261.02 L411.34,261.01 L412.50,260.99 L413.66,260.98 L414.82,260.97 L415.98,260.95 L417.14,260.94 L418.30,260.93 L419.46,260.91 L420.62,260.90 L421.78,260.89 L422.94,260.87 L424.10,260.86 L425.26,260.84 L426.42,260.83 L427.58,260.82 L428.74,260.80 L429.90,260.79 L431.06,260.78 L432.22,260.76 L433.38,260.75 L434.54,260.74 L435.70,260.72 L436.86,260.71 L438.02,260.69 L439.18,260.68 L440.34,260.67 L441.50,260.65 L442.66,260.64 L443.82,260.63 L444.98,260.61 L446.14,260.60 L447.30,260.59 L448.46,260.57 L449.62,260.56 L450.78,260.54 L451.94,260.53 L453.10,260.52 L454.25,260.50 L455.41,260.49 L456.57,260.48 L457.73,260.46 L458.89,260.45 L460.05,260.44 L461.21,260.42 L462.37,260.41 L463.53,260.40 L464.69,260.38 L463.53,263.07 L462.37,265.42 L461.21,267.48 L460.05,269.31 L458.89,270.93 L457.73,272.38 L456.57,273.68 L455.41,274.84 L454.25,275.90 L453.10,276.85 L451.94,277.72 L450.78,278.51 L449.62,279.24 L448.46,279.91 L447.30,280.52 L446.14,281.09 L444.98,281.62 L443.82,282.11 L442.66,282.57 L441.50,282.99 L440.34,283.39 L439.18,283.76 L438.02,284.10 L436.86,284.43 L435.70,284.74 L434.54,285.02 L433.38,285.29 L432.22,285.55 L431.06,285.79 L429.90,286.02 L428.74,286.23 L427.58,286.44 L426.42,286.63 L425.26,286.81 L424.10,286.98 L422.94,287.15 L421.78,287.30 L420.62,287.45 L419.46,287.59 L418.30,287.72 L417.14,287.85 L415.98,287.97 L414.82,288.09 L413.66,288.20 L412.50,288.31 L411.34,288.41 L410.19,288.50 L409.03,288.60 L407.87,288.69 L406.71,288.77 L405.55,288.86 L404.39,288.93 L403.23,289.01 L402.07,289.08 L400.91,289.16 L399.75,289.22 L398.59,289.29 L397.43,289.35 L396.27,289.42 L395.11,289.48 L393.95,289.54 L392.79,289.59 L391.63,289.65 L390.47,289.70 L389.31,289.75 L388.15,289.80 L386.99,289.85 L385.83,289.90 L384.67,289.95 L383.51,290.00 L382.35,290.04 L381.19,290.09 L380.03,290.13 L378.87,290.17 L377.71,290.22 L376.55,290.26 L375.39,290.30 L374.23,290.34 L373.07,290.38 L371.91,290.42 L370.75,290.46 L369.59,290.50 L368.43,290.54 L367.27,290.57 L366.12,290.61 L364.96,290.65 L363.80,290.68 L362.64,290.72 L361.48,290.76 L360.32,290.79 L359.16,290.83 L358.00,290.86 L356.84,290.90 L355.68,290.93 L354.52,290.96 L353.36,291.00 L352.20,291.03 L351.04,291.07 L349.88,291.10 L348.72,291.13 L347.56,291.17 L346.40,291.20 L345.24,291.23 L344.08,291.27 L342.92,291.30 L341.76,291.33 L340.60,291.36 L339.44,291.40 L338.28,291.43 L337.12,291.46 L335.96,291.49 L334.80,291.53 L333.64,291.56 L332.48,291.59 L331.32,291.62 L330.16,291.65 L329.00,291.69 L327.84,291.72 L326.68,291.75 L325.52,291.78 L324.36,291.81 L323.21,291.84 L322.05,291.88 L320.89,291.91 L319.73,291.94 L318.57,291.97 L317.41,292.00 L316.25,292.03 L315.09,292.06 L313.93,292.10 L312.77,292.13 L311.61,292.16 L310.45,292.19 L309.29,292.22 L308.13,292.25 L306.97,292.28 L305.81,292.32 L304.65,292.35 L303.49,292.38 L302.33,292.41 L301.17,292.44 L300.01,292.47 L298.85,292.50 L297.69,292.53 L296.53,292.57 L295.37,292.60 L294.21,292.63 L293.05,292.66 L291.89,292.69 L290.73,292.72 L289.57,292.75 L288.41,292.78 L287.25,292.81 L286.09,292.85 L284.93,292.88 L283.77,292.91 L282.61,292.94 L281.45,292.97 L280.29,293.00 Z" fill="none" stroke="#22a05c" stroke-width="1.6" stroke-linejoin="round"/>
<path d="M280.29,299.69 L281.45,296.57 L282.61,293.81 L283.77,291.35 L284.93,289.12 L286.09,287.08 L287.25,285.20 L288.41,283.47 L289.57,281.85 L290.73,280.35 L291.89,278.94 L293.05,277.62 L294.21,276.38 L295.37,275.21 L296.53,274.11 L297.69,273.08 L298.85,272.11 L300.01,271.20 L301.17,270.33 L302.33,269.52 L303.49,268.75 L304.65,268.03 L305.81,267.35 L306.97,266.70 L308.13,266.10 L309.29,265.52 L310.45,264.98 L311.61,264.47 L312.77,263.99 L313.93,263.53 L315.09,263.10 L316.25,262.69 L317.41,262.31 L318.57,261.94 L319.73,261.60 L320.89,261.27 L322.05,260.97 L323.21,260.67 L324.36,260.40 L325.52,260.14 L326.68,259.89 L327.84,259.65 L329.00,259.43 L330.16,259.22 L331.32,259.02 L332.48,258.82 L333.64,258.64 L334.80,258.47 L335.96,258.31 L337.12,258.15 L338.28,258.00 L339.44,257.86 L340.60,257.73 L341.76,257.60 L342.92,257.48 L344.08,257.36 L345.24,257.25 L346.40,257.14 L347.56,257.04 L348.72,256.94 L349.88,256.85 L351.04,256.76 L352.20,256.67 L353.36,256.59 L354.52,256.51 L355.68,256.43 L356.84,256.36 L358.00,256.28 L359.16,256.22 L360.32,256.15 L361.48,256.09 L362.64,256.02 L363.80,255.96 L364.96,255.91 L366.12,255.85 L367.27,255.79 L368.43,255.74 L369.59,255.69 L370.75,255.64 L371.91,255.59 L373.07,255.54 L374.23,255.49 L375.39,255.45 L376.55,255.40 L377.71,255.36 L378.87,255.32 L380.03,255.28 L381.19,255.23 L382.35,255.19 L383.51,255.15 L384.67,255.12 L385.83,255.08 L386.99,255.04 L388.15,255.00 L389.31,254.96 L390.47,254.93 L391.63,254.89 L392.79,254.86 L393.95,254.82 L395.11,254.79 L396.27,254.75 L397.43,254.72 L398.59,254.69 L399.75,254.65 L400.91,254.62 L402.07,254.59 L403.23,254.55 L404.39,254.52 L405.55,254.49 L406.71,254.46 L407.87,254.43 L409.03,254.40 L410.19,254.36 L411.34,254.33 L412.50,254.30 L413.66,254.27 L414.82,254.24 L415.98,254.21 L417.14,254.18 L418.30,254.15 L419.46,254.12 L420.62,254.09 L421.78,254.06 L422.94,254.03 L424.10,254.00 L425.26,253.97 L426.42,253.94 L427.58,253.91 L428.74,253.88 L429.90,253.85 L431.06,253.82 L432.22,253.79 L433.38,253.76 L434.54,253.74 L435.70,253.71 L436.86,253.68 L438.02,253.65 L439.18,253.62 L440.34,253.59 L441.50,253.56 L442.66,253.53 L443.82,253.50 L444.98,253.47 L446.14,253.45 L447.30,253.42 L448.46,253.39 L449.62,253.36 L450.78,253.33 L451.94,253.30 L453.10,253.27 L454.25,253.24 L455.41,253.22 L456.57,253.19 L457.73,253.16 L458.89,253.13 L460.05,253.10 L461.21,253.07 L462.37,253.04 L463.53,253.02 L464.69,252.99 L463.53,256.40 L462.37,259.47 L461.21,262.25 L460.05,264.78 L458.89,267.07 L457.73,269.16 L456.57,271.06 L455.41,272.81 L454.25,274.41 L453.10,275.88 L451.94,277.23 L450.78,278.48 L449.62,279.64 L448.46,280.70 L447.30,281.70 L446.14,282.62 L444.98,283.47 L443.82,284.27 L442.66,285.02 L441.50,285.71 L440.34,286.36 L439.18,286.97 L438.02,287.54 L436.86,288.08 L435.70,288.58 L434.54,289.06 L433.38,289.50 L432.22,289.92 L431.06,290.31 L429.90,290.68 L428.74,291.03 L427.58,291.37 L426.42,291.68 L425.26,291.97 L424.10,292.25 L422.94,292.52 L421.78,292.77 L420.62,293.01 L419.46,293.23 L418.30,293.44 L417.14,293.65 L415.98,293.84 L414.82,294.02 L413.66,294.19 L412.50,294.36 L411.34,294.52 L410.19,294.67 L409.03,294.81 L407.87,294.94 L406.71,295.07 L405.55,295.20 L404.39,295.32 L403.23,295.43 L402.07,295.54 L400.91,295.64 L399.75,295.74 L398.59,295.83 L397.43,295.92 L396.27,296.01 L395.11,296.10 L393.95,296.18 L392.79,296.25 L391.63,296.33 L390.47,296.40 L389.31,296.47 L388.15,296.54 L386.99,296.60 L385.83,296.66 L384.67,296.72 L383.51,296.78 L382.35,296.84 L381.19,296.90 L380.03,296.95 L378.87,297.00 L377.71,297.05 L376.55,297.10 L375.39,297.15 L374.23,297.20 L373.07,297.24 L371.91,297.29 L370.75,297.33 L369.59,297.37 L368.43,297.41 L367.27,297.45 L366.12,297.49 L364.96,297.53 L363.80,297.57 L362.64,297.61 L361.48,297.65 L360.32,297.68 L359.16,297.72 L358.00,297.76 L356.84,297.79 L355.68,297.83 L354.52,297.86 L353.36,297.89 L352.20,297.93 L351.04,297.96 L349.88,297.99 L348.72,298.02 L347.56,298.06 L346.40,298.09 L345.24,298.12 L344.08,298.15 L342.92,298.18 L341.76,298.21 L340.60,298.24 L339.44,298.27 L338.28,298.30 L337.12,298.33 L335.96,298.36 L334.80,298.39 L333.64,298.42 L332.48,298.45 L331.32,298.48 L330.16,298.51 L329.00,298.54 L327.84,298.57 L326.68,298.59 L325.52,298.62 L324.36,298.65 L323.21,298.68 L322.05,298.71 L320.89,298.74 L319.73,298.76 L318.57,298.79 L317.41,298.82 L316.25,298.85 L315.09,298.88 L313.93,298.90 L312.77,298.93 L311.61,298.96 L310.45,298.99 L309.29,299.01 L308.13,299.04 L306.97,299.07 L305.81,299.10 L304.65,299.12 L303.49,299.15 L302.33,299.18 L301.17,299.21 L300.01,299.23 L298.85,299.26 L297.69,299.29 L296.53,299.31 L295.37,299.34 L294.21,299.37 L293.05,299.40 L291.89,299.42 L290.73,299.45 L289.57,299.48 L288.41,299.50 L287.25,299.53 L286.09,299.56 L284.93,299.59 L283.77,299.61 L282.61,299.64 L281.45,299.67 L280.29,299.69 Z" fill="none" stroke="#1a5fe0" stroke-width="1.6" stroke-linejoin="round"/>
<path d="M280.29,313.64 L281.45,310.85 L282.61,308.17 L283.77,305.60 L284.93,303.13 L286.09,300.76 L287.25,298.49 L288.41,296.32 L289.57,294.23 L290.73,292.22 L291.89,290.30 L293.05,288.45 L294.21,286.68 L295.37,284.98 L296.53,283.35 L297.69,281.78 L298.85,280.28 L300.01,278.83 L301.17,277.45 L302.33,276.12 L303.49,274.84 L304.65,273.62 L305.81,272.44 L306.97,271.31 L308.13,270.23 L309.29,269.19 L310.45,268.19 L311.61,267.23 L312.77,266.31 L313.93,265.42 L315.09,264.57 L316.25,263.75 L317.41,262.97 L318.57,262.21 L319.73,261.49 L320.89,260.79 L322.05,260.12 L323.21,259.48 L324.36,258.86 L325.52,258.26 L326.68,257.69 L327.84,257.14 L329.00,256.61 L330.16,256.11 L331.32,255.62 L332.48,255.15 L333.64,254.69 L334.80,254.26 L335.96,253.84 L337.12,253.44 L338.28,253.05 L339.44,252.67 L340.60,252.31 L341.76,251.97 L342.92,251.63 L344.08,251.31 L345.24,251.00 L346.40,250.70 L347.56,250.41 L348.72,250.14 L349.88,249.87 L351.04,249.61 L352.20,249.36 L353.36,249.12 L354.52,248.89 L355.68,248.66 L356.84,248.44 L358.00,248.24 L359.16,248.03 L360.32,247.84 L361.48,247.65 L362.64,247.47 L363.80,247.29 L364.96,247.12 L366.12,246.95 L367.27,246.79 L368.43,246.64 L369.59,246.48 L370.75,246.34 L371.91,246.20 L373.07,246.06 L374.23,245.93 L375.39,245.80 L376.55,245.67 L377.71,245.55 L378.87,245.43 L380.03,245.32 L381.19,245.20 L382.35,245.10 L383.51,244.99 L384.67,244.89 L385.83,244.79 L386.99,244.69 L388.15,244.59 L389.31,244.50 L390.47,244.41 L391.63,244.32 L392.79,244.23 L393.95,244.15 L395.11,244.07 L396.27,243.98 L397.43,243.91 L398.59,243.83 L399.75,243.75 L400.91,243.68 L402.07,243.61 L403.23,243.53 L404.39,243.46 L405.55,243.40 L406.71,243.33 L407.87,243.26 L409.03,243.20 L410.19,243.13 L411.34,243.07 L412.50,243.01 L413.66,242.95 L414.82,242.89 L415.98,242.83 L417.14,242.77 L418.30,242.71 L419.46,242.66 L420.62,242.60 L421.78,242.54 L422.94,242.49 L424.10,242.44 L425.26,242.38 L426.42,242.33 L427.58,242.28 L428.74,242.23 L429.90,242.18 L431.06,242.13 L432.22,242.08 L433.38,242.03 L434.54,241.98 L435.70,241.93 L436.86,241.88 L438.02,241.83 L439.18,241.79 L440.34,241.74 L441.50,241.69 L442.66,241.65 L443.82,241.60 L444.98,241.56 L446.14,241.51 L447.30,241.47 L448.46,241.42 L449.62,241.38 L450.78,241.33 L451.94,241.29 L453.10,241.24 L454.25,241.20 L455.41,241.16 L456.57,241.12 L457.73,241.07 L458.89,241.03 L460.05,240.99 L461.21,240.95 L462.37,240.90 L463.53,240.86 L464.69,240.82 L463.53,244.29 L462.37,247.52 L461.21,250.53 L460.05,253.35 L458.89,255.97 L457.73,258.43 L456.57,260.72 L455.41,262.87 L454.25,264.89 L453.10,266.78 L451.94,268.55 L450.78,270.21 L449.62,271.78 L448.46,273.25 L447.30,274.63 L446.14,275.94 L444.98,277.17 L443.82,278.34 L442.66,279.44 L441.50,280.49 L440.34,281.48 L439.18,282.42 L438.02,283.31 L436.86,284.16 L435.70,284.97 L434.54,285.74 L433.38,286.48 L432.22,287.18 L431.06,287.86 L429.90,288.51 L428.74,289.13 L427.58,289.72 L426.42,290.30 L425.26,290.85 L424.10,291.38 L422.94,291.89 L421.78,292.39 L420.62,292.87 L419.46,293.33 L418.30,293.78 L417.14,294.22 L415.98,294.64 L414.82,295.05 L413.66,295.46 L412.50,295.85 L411.34,296.22 L410.19,296.59 L409.03,296.96 L407.87,297.31 L406.71,297.65 L405.55,297.99 L404.39,298.32 L403.23,298.64 L402.07,298.96 L400.91,299.27 L399.75,299.57 L398.59,299.87 L397.43,300.16 L396.27,300.44 L395.11,300.72 L393.95,301.00 L392.79,301.27 L391.63,301.54 L390.47,301.80 L389.31,302.05 L388.15,302.31 L386.99,302.56 L385.83,302.80 L384.67,303.04 L383.51,303.28 L382.35,303.51 L381.19,303.74 L380.03,303.96 L378.87,304.19 L377.71,304.41 L376.55,304.62 L375.39,304.83 L374.23,305.04 L373.07,305.25 L371.91,305.45 L370.75,305.65 L369.59,305.84 L368.43,306.04 L367.27,306.23 L366.12,306.41 L364.96,306.60 L363.80,306.78 L362.64,306.96 L361.48,307.13 L360.32,307.31 L359.16,307.48 L358.00,307.64 L356.84,307.81 L355.68,307.97 L354.52,308.13 L353.36,308.29 L352.20,308.44 L351.04,308.59 L349.88,308.74 L348.72,308.89 L347.56,309.03 L346.40,309.18 L345.24,309.32 L344.08,309.45 L342.92,309.59 L341.76,309.72 L340.60,309.85 L339.44,309.98 L338.28,310.10 L337.12,310.22 L335.96,310.34 L334.80,310.46 L333.64,310.58 L332.48,310.69 L331.32,310.80 L330.16,310.91 L329.00,311.02 L327.84,311.12 L326.68,311.22 L325.52,311.32 L324.36,311.42 L323.21,311.52 L322.05,311.61 L320.89,311.70 L319.73,311.79 L318.57,311.88 L317.41,311.96 L316.25,312.05 L315.09,312.13 L313.93,312.21 L312.77,312.28 L311.61,312.36 L310.45,312.43 L309.29,312.50 L308.13,312.57 L306.97,312.63 L305.81,312.70 L304.65,312.76 L303.49,312.82 L302.33,312.88 L301.17,312.94 L300.01,312.99 L298.85,313.05 L297.69,313.10 L296.53,313.15 L295.37,313.19 L294.21,313.24 L293.05,313.28 L291.89,313.32 L290.73,313.36 L289.57,313.40 L288.41,313.44 L287.25,313.47 L286.09,313.50 L284.93,313.54 L283.77,313.56 L282.61,313.59 L281.45,313.62 L280.29,313.64 Z" fill="none" stroke="#ee3333" stroke-width="1.6" stroke-linejoin="round"/>
<path d="M280.29,340.88 L281.45,338.09 L282.61,335.38 L283.77,332.74 L284.93,330.17 L286.09,327.68 L287.25,325.24 L288.41,322.87 L289.57,320.56 L290.73,318.31 L291.89,316.12 L293.05,313.98 L294.21,311.89 L295.37,309.86 L296.53,307.87 L297.69,305.93 L298.85,304.04 L300.01,302.19 L301.17,300.39 L302.33,298.62 L303.49,296.90 L304.65,295.22 L305.81,293.57 L306.97,291.96 L308.13,290.39 L309.29,288.85 L310.45,287.35 L311.61,285.87 L312.77,284.43 L313.93,283.02 L315.09,281.64 L316.25,280.29 L317.41,278.96 L318.57,277.66 L319.73,276.39 L320.89,275.15 L322.05,273.93 L323.21,272.73 L324.36,271.56 L325.52,270.41 L326.68,269.28 L327.84,268.18 L329.00,267.09 L330.16,266.03 L331.32,264.99 L332.48,263.97 L333.64,262.96 L334.80,261.98 L335.96,261.01 L337.12,260.07 L338.28,259.14 L339.44,258.22 L340.60,257.33 L341.76,256.45 L342.92,255.59 L344.08,254.74 L345.24,253.91 L346.40,253.09 L347.56,252.29 L348.72,251.50 L349.88,250.73 L351.04,249.97 L352.20,249.22 L353.36,248.49 L354.52,247.77 L355.68,247.06 L356.84,246.37 L358.00,245.69 L359.16,245.02 L360.32,244.36 L361.48,243.72 L362.64,243.08 L363.80,242.46 L364.96,241.85 L366.12,241.25 L367.27,240.66 L368.43,240.08 L369.59,239.52 L370.75,238.96 L371.91,238.41 L373.07,237.87 L374.23,237.35 L375.39,236.83 L376.55,236.32 L377.71,235.82 L378.87,235.33 L380.03,234.85 L381.19,234.38 L382.35,233.91 L383.51,233.46 L384.67,233.01 L385.83,232.57 L386.99,232.15 L388.15,231.72 L389.31,231.31 L390.47,230.91 L391.63,230.51 L392.79,230.12 L393.95,229.74 L395.11,229.37 L396.27,229.00 L397.43,228.64 L398.59,228.29 L399.75,227.94 L400.91,227.61 L402.07,227.28 L403.23,226.95 L404.39,226.63 L405.55,226.32 L406.71,226.02 L407.87,225.72 L409.03,225.43 L410.19,225.15 L411.34,224.87 L412.50,224.60 L413.66,224.33 L414.82,224.08 L415.98,223.82 L417.14,223.57 L418.30,223.33 L419.46,223.10 L420.62,222.87 L421.78,222.64 L422.94,222.43 L424.10,222.21 L425.26,222.00 L426.42,221.80 L427.58,221.61 L428.74,221.41 L429.90,221.23 L431.06,221.05 L432.22,220.87 L433.38,220.70 L434.54,220.53 L435.70,220.37 L436.86,220.22 L438.02,220.06 L439.18,219.92 L440.34,219.78 L441.50,219.64 L442.66,219.51 L443.82,219.38 L444.98,219.25 L446.14,219.13 L447.30,219.02 L448.46,218.91 L449.62,218.80 L450.78,218.70 L451.94,218.60 L453.10,218.51 L454.25,218.42 L455.41,218.33 L456.57,218.25 L457.73,218.18 L458.89,218.10 L460.05,218.03 L461.21,217.97 L462.37,217.91 L463.53,217.85 L464.69,217.79 L463.53,220.89 L462.37,223.86 L461.21,226.72 L460.05,229.47 L458.89,232.11 L457.73,234.64 L456.57,237.09 L455.41,239.44 L454.25,241.70 L453.10,243.88 L451.94,245.98 L450.78,248.01 L449.62,249.96 L448.46,251.85 L447.30,253.67 L446.14,255.42 L444.98,257.12 L443.82,258.77 L442.66,260.36 L441.50,261.90 L440.34,263.39 L439.18,264.83 L438.02,266.23 L436.86,267.59 L435.70,268.90 L434.54,270.18 L433.38,271.43 L432.22,272.63 L431.06,273.81 L429.90,274.95 L428.74,276.06 L427.58,277.14 L426.42,278.20 L425.26,279.23 L424.10,280.23 L422.94,281.21 L421.78,282.17 L420.62,283.10 L419.46,284.01 L418.30,284.91 L417.14,285.78 L415.98,286.63 L414.82,287.47 L413.66,288.29 L412.50,289.10 L411.34,289.89 L410.19,290.66 L409.03,291.42 L407.87,292.17 L406.71,292.90 L405.55,293.62 L404.39,294.33 L403.23,295.02 L402.07,295.71 L400.91,296.38 L399.75,297.05 L398.59,297.70 L397.43,298.35 L396.27,298.98 L395.11,299.61 L393.95,300.23 L392.79,300.84 L391.63,301.44 L390.47,302.04 L389.31,302.62 L388.15,303.21 L386.99,303.78 L385.83,304.35 L384.67,304.91 L383.51,305.46 L382.35,306.01 L381.19,306.55 L380.03,307.09 L378.87,307.62 L377.71,308.14 L376.55,308.66 L375.39,309.18 L374.23,309.69 L373.07,310.20 L371.91,310.70 L370.75,311.19 L369.59,311.69 L368.43,312.18 L367.27,312.66 L366.12,313.14 L364.96,313.61 L363.80,314.09 L362.64,314.55 L361.48,315.02 L360.32,315.48 L359.16,315.94 L358.00,316.39 L356.84,316.84 L355.68,317.29 L354.52,317.73 L353.36,318.17 L352.20,318.61 L351.04,319.04 L349.88,319.48 L348.72,319.90 L347.56,320.33 L346.40,320.75 L345.24,321.17 L344.08,321.59 L342.92,322.00 L341.76,322.41 L340.60,322.82 L339.44,323.22 L338.28,323.63 L337.12,324.03 L335.96,324.43 L334.80,324.82 L333.64,325.21 L332.48,325.60 L331.32,325.99 L330.16,326.38 L329.00,326.76 L327.84,327.14 L326.68,327.52 L325.52,327.89 L324.36,328.27 L323.21,328.64 L322.05,329.01 L320.89,329.37 L319.73,329.74 L318.57,330.10 L317.41,330.46 L316.25,330.82 L315.09,331.17 L313.93,331.52 L312.77,331.87 L311.61,332.22 L310.45,332.57 L309.29,332.91 L308.13,333.26 L306.97,333.60 L305.81,333.94 L304.65,334.27 L303.49,334.61 L302.33,334.94 L301.17,335.27 L300.01,335.60 L298.85,335.92 L297.69,336.25 L296.53,336.57 L295.37,336.89 L294.21,337.21 L293.05,337.52 L291.89,337.84 L290.73,338.15 L289.57,338.46 L288.41,338.77 L287.25,339.08 L286.09,339.38 L284.93,339.68 L283.77,339.99 L282.61,340.28 L281.45,340.58 L280.29,340.88 Z" fill="none" stroke="#3c3c3c" stroke-width="1.6" stroke-linejoin="round"/>
<text transform="translate(138.40 375.00) scale(1.100 1)" font-family="'Liberation Sans', sans-serif" font-size="9.5" font-weight="bold" text-anchor="middle" fill="#000" stroke="#000" stroke-width="0.2" style="font-kerning:none">E vs SCE (V)</text>
<text transform="translate(372.50 375.00) scale(1.100 1)" font-family="'Liberation Sans', sans-serif" font-size="9.5" font-weight="bold" text-anchor="middle" fill="#000" stroke="#000" stroke-width="0.2" style="font-kerning:none">E vs SCE (V)</text>
<text transform="translate(19.00 275.60) rotate(-90)" font-family="'Liberation Sans', sans-serif" font-size="9.8" font-weight="bold" text-anchor="middle" fill="#000" stroke="#000" stroke-width="0.2" style="font-kerning:none">Specific current (A.g<tspan dy="-3.9" font-size="6.1">-1</tspan><tspan dy="3.9">)</tspan></text>
<text transform="translate(253.40 275.60) rotate(-90)" font-family="'Liberation Sans', sans-serif" font-size="9.8" font-weight="bold" text-anchor="middle" fill="#000" stroke="#000" stroke-width="0.2" style="font-kerning:none">Specific current (A.g<tspan dy="-3.9" font-size="6.1">-1</tspan><tspan dy="3.9">)</tspan></text>
<line x1="41.30" y1="217.00" x2="61.70" y2="217.00" stroke="#3c3c3c" stroke-width="1.5"/>
<text transform="translate(65.00 219.60)" font-family="'Liberation Sans', sans-serif" font-size="8.6" text-anchor="start" fill="#222" stroke="#222" stroke-width="0.15" letter-spacing="0.22" style="font-kerning:none">100 mV.s<tspan dy="-3.2" font-size="5">-1</tspan></text>
<line x1="41.30" y1="228.40" x2="61.70" y2="228.40" stroke="#ee3333" stroke-width="1.5"/>
<text transform="translate(66.70 231.00)" font-family="'Liberation Sans', sans-serif" font-size="8.6" text-anchor="start" fill="#222" stroke="#222" stroke-width="0.15" letter-spacing="0.22" style="font-kerning:none">50 mV.s<tspan dy="-3.2" font-size="5">-1</tspan></text>
<line x1="41.30" y1="239.70" x2="61.70" y2="239.70" stroke="#1a5fe0" stroke-width="1.5"/>
<text transform="translate(66.70 242.30)" font-family="'Liberation Sans', sans-serif" font-size="8.6" text-anchor="start" fill="#222" stroke="#222" stroke-width="0.15" letter-spacing="0.22" style="font-kerning:none">30 mV.s<tspan dy="-3.2" font-size="5">-1</tspan></text>
<line x1="173.00" y1="314.70" x2="194.20" y2="314.70" stroke="#22a05c" stroke-width="1.5"/>
<text transform="translate(198.70 317.60)" font-family="'Liberation Sans', sans-serif" font-size="8.6" text-anchor="start" fill="#222" stroke="#222" stroke-width="0.15" letter-spacing="0.22" style="font-kerning:none">20 mV.s<tspan dy="-3.2" font-size="5">-1</tspan></text>
<line x1="173.00" y1="325.90" x2="194.20" y2="325.90" stroke="#d49a14" stroke-width="1.5"/>
<text transform="translate(199.70 328.80)" font-family="'Liberation Sans', sans-serif" font-size="8.6" text-anchor="start" fill="#222" stroke="#222" stroke-width="0.15" letter-spacing="0.22" style="font-kerning:none">10 mV.s<tspan dy="-3.2" font-size="5">-1</tspan></text>
<line x1="173.00" y1="337.30" x2="194.20" y2="337.30" stroke="#16c8d0" stroke-width="1.5"/>
<text transform="translate(200.80 340.20)" font-family="'Liberation Sans', sans-serif" font-size="8.6" text-anchor="start" fill="#222" stroke="#222" stroke-width="0.15" letter-spacing="0.22" style="font-kerning:none">5 mV.s<tspan dy="-3.2" font-size="5">-1</tspan></text>
<line x1="274.20" y1="217.50" x2="294.20" y2="217.50" stroke="#3c3c3c" stroke-width="1.5"/>
<text transform="translate(297.50 220.10)" font-family="'Liberation Sans', sans-serif" font-size="8.6" text-anchor="start" fill="#222" stroke="#222" stroke-width="0.15" letter-spacing="0.22" style="font-kerning:none">100 mV.s<tspan dy="-3.2" font-size="5">-1</tspan></text>
<line x1="274.20" y1="228.90" x2="294.20" y2="228.90" stroke="#ee3333" stroke-width="1.5"/>
<text transform="translate(299.70 231.50)" font-family="'Liberation Sans', sans-serif" font-size="8.6" text-anchor="start" fill="#222" stroke="#222" stroke-width="0.15" letter-spacing="0.22" style="font-kerning:none">50 mV.s<tspan dy="-3.2" font-size="5">-1</tspan></text>
<line x1="274.20" y1="240.20" x2="294.20" y2="240.20" stroke="#1a5fe0" stroke-width="1.5"/>
<text transform="translate(299.40 242.80)" font-family="'Liberation Sans', sans-serif" font-size="8.6" text-anchor="start" fill="#222" stroke="#222" stroke-width="0.15" letter-spacing="0.22" style="font-kerning:none">30 mV.s<tspan dy="-3.2" font-size="5">-1</tspan></text>
<line x1="407.00" y1="314.70" x2="428.40" y2="314.70" stroke="#22a05c" stroke-width="1.5"/>
<text transform="translate(432.60 317.60)" font-family="'Liberation Sans', sans-serif" font-size="8.6" text-anchor="start" fill="#222" stroke="#222" stroke-width="0.15" letter-spacing="0.22" style="font-kerning:none">20 mV.s<tspan dy="-3.2" font-size="5">-1</tspan></text>
<line x1="407.00" y1="326.20" x2="428.40" y2="326.20" stroke="#d49a14" stroke-width="1.5"/>
<text transform="translate(433.70 329.10)" font-family="'Liberation Sans', sans-serif" font-size="8.6" text-anchor="start" fill="#222" stroke="#222" stroke-width="0.15" letter-spacing="0.22" style="font-kerning:none">10 mV.s<tspan dy="-3.2" font-size="5">-1</tspan></text>
<line x1="407.00" y1="337.60" x2="428.40" y2="337.60" stroke="#16c8d0" stroke-width="1.5"/>
<text transform="translate(435.80 340.50)" font-family="'Liberation Sans', sans-serif" font-size="8.6" text-anchor="start" fill="#222" stroke="#222" stroke-width="0.15" letter-spacing="0.22" style="font-kerning:none">5 mV.s<tspan dy="-3.2" font-size="5">-1</tspan></text>
<line x1="41.70" y1="395.30" x2="226.80" y2="395.30" stroke="#111" stroke-width="1.2"/>
<line x1="41.70" y1="395.30" x2="41.70" y2="522.80" stroke="#111" stroke-width="1.2"/>
<line x1="41.70" y1="522.80" x2="226.80" y2="522.80" stroke="#111" stroke-width="1.2"/>
<line x1="226.80" y1="395.30" x2="226.80" y2="522.80" stroke="#f00" stroke-width="1.2"/>
<line x1="39.20" y1="522.80" x2="41.70" y2="522.80" stroke="#111" stroke-width="1.0"/>
<text transform="translate(37.90 525.20) scale(1.100 1)" font-family="'Liberation Sans', sans-serif" font-size="7.0" text-anchor="end" fill="#222" stroke="#222" stroke-width="0.15" style="font-kerning:none">0</text>
<line x1="39.20" y1="506.94" x2="41.70" y2="506.94" stroke="#111" stroke-width="1.0"/>
<text transform="translate(37.90 509.34) scale(1.100 1)" font-family="'Liberation Sans', sans-serif" font-size="7.0" text-anchor="end" fill="#222" stroke="#222" stroke-width="0.15" style="font-kerning:none">20</text>
<line x1="39.20" y1="491.08" x2="41.70" y2="491.08" stroke="#111" stroke-width="1.0"/>
<text transform="translate(37.90 493.48) scale(1.100 1)" font-family="'Liberation Sans', sans-serif" font-size="7.0" text-anchor="end" fill="#222" stroke="#222" stroke-width="0.15" style="font-kerning:none">40</text>
<line x1="39.20" y1="475.22" x2="41.70" y2="475.22" stroke="#111" stroke-width="1.0"/>
<text transform="translate(37.90 477.62) scale(1.100 1)" font-family="'Liberation Sans', sans-serif" font-size="7.0" text-anchor="end" fill="#222" stroke="#222" stroke-width="0.15" style="font-kerning:none">60</text>
<line x1="39.20" y1="459.36" x2="41.70" y2="459.36" stroke="#111" stroke-width="1.0"/>
<text transform="translate(37.90 461.76) scale(1.100 1)" font-family="'Liberation Sans', sans-serif" font-size="7.0" text-anchor="end" fill="#222" stroke="#222" stroke-width="0.15" style="font-kerning:none">80</text>
<line x1="39.20" y1="443.50" x2="41.70" y2="443.50" stroke="#111" stroke-width="1.0"/>
<text transform="translate(37.90 445.90) scale(1.100 1)" font-family="'Liberation Sans', sans-serif" font-size="7.0" text-anchor="end" fill="#222" stroke="#222" stroke-width="0.15" style="font-kerning:none">100</text>
<line x1="39.20" y1="427.64" x2="41.70" y2="427.64" stroke="#111" stroke-width="1.0"/>
<text transform="translate(37.90 430.04) scale(1.100 1)" font-family="'Liberation Sans', sans-serif" font-size="7.0" text-anchor="end" fill="#222" stroke="#222" stroke-width="0.15" style="font-kerning:none">120</text>
<line x1="39.20" y1="411.78" x2="41.70" y2="411.78" stroke="#111" stroke-width="1.0"/>
<text transform="translate(37.90 414.18) scale(1.100 1)" font-family="'Liberation Sans', sans-serif" font-size="7.0" text-anchor="end" fill="#222" stroke="#222" stroke-width="0.15" style="font-kerning:none">140</text>
<line x1="39.20" y1="395.92" x2="41.70" y2="395.92" stroke="#111" stroke-width="1.0"/>
<text transform="translate(37.90 398.32) scale(1.100 1)" font-family="'Liberation Sans', sans-serif" font-size="7.0" text-anchor="end" fill="#222" stroke="#222" stroke-width="0.15" style="font-kerning:none">160</text>
<line x1="40.20" y1="514.87" x2="41.70" y2="514.87" stroke="#111" stroke-width="0.9"/>
<line x1="40.20" y1="499.01" x2="41.70" y2="499.01" stroke="#111" stroke-width="0.9"/>
<line x1="40.20" y1="483.15" x2="41.70" y2="483.15" stroke="#111" stroke-width="0.9"/>
<line x1="40.20" y1="467.29" x2="41.70" y2="467.29" stroke="#111" stroke-width="0.9"/>
<line x1="40.20" y1="451.43" x2="41.70" y2="451.43" stroke="#111" stroke-width="0.9"/>
<line x1="40.20" y1="435.57" x2="41.70" y2="435.57" stroke="#111" stroke-width="0.9"/>
<line x1="40.20" y1="419.71" x2="41.70" y2="419.71" stroke="#111" stroke-width="0.9"/>
<line x1="40.20" y1="403.85" x2="41.70" y2="403.85" stroke="#111" stroke-width="0.9"/>
<line x1="226.80" y1="522.80" x2="229.30" y2="522.80" stroke="#f00" stroke-width="1.0"/>
<text transform="translate(230.60 525.20) scale(1.100 1)" font-family="'Liberation Sans', sans-serif" font-size="7.0" text-anchor="start" fill="#f00" stroke="#f00" stroke-width="0.15" style="font-kerning:none">0</text>
<line x1="226.80" y1="501.55" x2="229.30" y2="501.55" stroke="#f00" stroke-width="1.0"/>
<text transform="translate(230.60 503.95) scale(1.100 1)" font-family="'Liberation Sans', sans-serif" font-size="7.0" text-anchor="start" fill="#f00" stroke="#f00" stroke-width="0.15" style="font-kerning:none">25</text>
<line x1="226.80" y1="480.30" x2="229.30" y2="480.30" stroke="#f00" stroke-width="1.0"/>
<text transform="translate(230.60 482.70) scale(1.100 1)" font-family="'Liberation Sans', sans-serif" font-size="7.0" text-anchor="start" fill="#f00" stroke="#f00" stroke-width="0.15" style="font-kerning:none">50</text>
<line x1="226.80" y1="459.05" x2="229.30" y2="459.05" stroke="#f00" stroke-width="1.0"/>
<text transform="translate(230.60 461.45) scale(1.100 1)" font-family="'Liberation Sans', sans-serif" font-size="7.0" text-anchor="start" fill="#f00" stroke="#f00" stroke-width="0.15" style="font-kerning:none">75</text>
<line x1="226.80" y1="437.80" x2="229.30" y2="437.80" stroke="#f00" stroke-width="1.0"/>
<text transform="translate(230.60 440.20) scale(1.100 1)" font-family="'Liberation Sans', sans-serif" font-size="7.0" text-anchor="start" fill="#f00" stroke="#f00" stroke-width="0.15" style="font-kerning:none">100</text>
<line x1="226.80" y1="416.55" x2="229.30" y2="416.55" stroke="#f00" stroke-width="1.0"/>
<text transform="translate(230.60 418.95) scale(1.100 1)" font-family="'Liberation Sans', sans-serif" font-size="7.0" text-anchor="start" fill="#f00" stroke="#f00" stroke-width="0.15" style="font-kerning:none">125</text>
<line x1="226.80" y1="395.30" x2="229.30" y2="395.30" stroke="#f00" stroke-width="1.0"/>
<text transform="translate(230.60 397.70) scale(1.100 1)" font-family="'Liberation Sans', sans-serif" font-size="7.0" text-anchor="start" fill="#f00" stroke="#f00" stroke-width="0.15" style="font-kerning:none">150</text>
<line x1="226.80" y1="512.17" x2="228.30" y2="512.17" stroke="#f00" stroke-width="0.9"/>
<line x1="226.80" y1="490.92" x2="228.30" y2="490.92" stroke="#f00" stroke-width="0.9"/>
<line x1="226.80" y1="469.67" x2="228.30" y2="469.67" stroke="#f00" stroke-width="0.9"/>
<line x1="226.80" y1="448.42" x2="228.30" y2="448.42" stroke="#f00" stroke-width="0.9"/>
<line x1="226.80" y1="427.17" x2="228.30" y2="427.17" stroke="#f00" stroke-width="0.9"/>
<line x1="226.80" y1="405.92" x2="228.30" y2="405.92" stroke="#f00" stroke-width="0.9"/>
<line x1="57.30" y1="522.80" x2="57.30" y2="525.30" stroke="#111" stroke-width="1.0"/>
<text transform="translate(57.30 532.80) scale(1.100 1)" font-family="'Liberation Sans', sans-serif" font-size="7.0" text-anchor="middle" fill="#222" stroke="#222" stroke-width="0.15" style="font-kerning:none">0</text>
<line x1="88.12" y1="522.80" x2="88.12" y2="525.30" stroke="#111" stroke-width="1.0"/>
<text transform="translate(88.12 532.80) scale(1.100 1)" font-family="'Liberation Sans', sans-serif" font-size="7.0" text-anchor="middle" fill="#222" stroke="#222" stroke-width="0.15" style="font-kerning:none">20</text>
<line x1="118.94" y1="522.80" x2="118.94" y2="525.30" stroke="#111" stroke-width="1.0"/>
<text transform="translate(118.94 532.80) scale(1.100 1)" font-family="'Liberation Sans', sans-serif" font-size="7.0" text-anchor="middle" fill="#222" stroke="#222" stroke-width="0.15" style="font-kerning:none">40</text>
<line x1="149.76" y1="522.80" x2="149.76" y2="525.30" stroke="#111" stroke-width="1.0"/>
<text transform="translate(149.76 532.80) scale(1.100 1)" font-family="'Liberation Sans', sans-serif" font-size="7.0" text-anchor="middle" fill="#222" stroke="#222" stroke-width="0.15" style="font-kerning:none">60</text>
<line x1="180.58" y1="522.80" x2="180.58" y2="525.30" stroke="#111" stroke-width="1.0"/>
<text transform="translate(180.58 532.80) scale(1.100 1)" font-family="'Liberation Sans', sans-serif" font-size="7.0" text-anchor="middle" fill="#222" stroke="#222" stroke-width="0.15" style="font-kerning:none">80</text>
<line x1="211.40" y1="522.80" x2="211.40" y2="525.30" stroke="#111" stroke-width="1.0"/>
<text transform="translate(211.40 532.80) scale(1.100 1)" font-family="'Liberation Sans', sans-serif" font-size="7.0" text-anchor="middle" fill="#222" stroke="#222" stroke-width="0.15" style="font-kerning:none">100</text>
<line x1="41.89" y1="522.80" x2="41.89" y2="524.30" stroke="#111" stroke-width="0.9"/>
<line x1="41.89" y1="395.30" x2="41.89" y2="393.80" stroke="#111" stroke-width="0.9"/>
<line x1="72.71" y1="522.80" x2="72.71" y2="524.30" stroke="#111" stroke-width="0.9"/>
<line x1="72.71" y1="395.30" x2="72.71" y2="393.80" stroke="#111" stroke-width="0.9"/>
<line x1="103.53" y1="522.80" x2="103.53" y2="524.30" stroke="#111" stroke-width="0.9"/>
<line x1="103.53" y1="395.30" x2="103.53" y2="393.80" stroke="#111" stroke-width="0.9"/>
<line x1="134.35" y1="522.80" x2="134.35" y2="524.30" stroke="#111" stroke-width="0.9"/>
<line x1="134.35" y1="395.30" x2="134.35" y2="393.80" stroke="#111" stroke-width="0.9"/>
<line x1="165.17" y1="522.80" x2="165.17" y2="524.30" stroke="#111" stroke-width="0.9"/>
<line x1="165.17" y1="395.30" x2="165.17" y2="393.80" stroke="#111" stroke-width="0.9"/>
<line x1="195.99" y1="522.80" x2="195.99" y2="524.30" stroke="#111" stroke-width="0.9"/>
<line x1="195.99" y1="395.30" x2="195.99" y2="393.80" stroke="#111" stroke-width="0.9"/>
<text transform="translate(134.00 542.50) scale(1.120 1)" font-family="'Liberation Sans', sans-serif" font-size="8.6" font-weight="bold" text-anchor="middle" fill="#000" stroke="#000" stroke-width="0.2" style="font-kerning:none">Scan rate (mV.s<tspan dy="-3.5" font-size="5.5">-1</tspan><tspan dy="3.5">)</tspan></text>
<text transform="translate(20.30 458.70) rotate(-90)" font-family="'Liberation Sans', sans-serif" font-size="9.1" font-weight="bold" text-anchor="middle" fill="#000" stroke="#000" stroke-width="0.2" style="font-kerning:none">Capacitance retention(%)</text>
<text transform="translate(255.00 458.20) rotate(-90)" font-family="'Liberation Sans', sans-serif" font-size="9.1" font-weight="bold" text-anchor="middle" fill="#f00" stroke="#f00" stroke-width="0.2" style="font-kerning:none">Coulombic efficiency (%)</text>
<text x="12.10" y="384.46" font-family="'Liberation Serif', serif" font-weight="normal" stroke="#000" stroke-width="0.75" font-size="18.96" fill="#000">(<tspan font-size="19.91" dy="1.5">e</tspan><tspan dy="-1.5" dx="0.9">)</tspan></text>
<path d="M58.84,404.10 L65.00,427.60 L72.71,432.30 L88.12,433.80 L103.53,433.60 L134.35,435.20 L211.40,437.20" fill="none" stroke="#f00" stroke-width="1.3" stroke-linejoin="round" stroke-dasharray="4,2.5"/>
<path d="M58.84,415.00 L65.00,429.10 L72.71,432.70 L88.12,435.70 L103.53,435.70 L134.35,435.70 L211.40,438.80" fill="none" stroke="#000" stroke-width="1.1" stroke-linejoin="round" stroke-dasharray="3.5,2.5"/>
<path d="M58.84,443.60 L65.00,455.20 L72.71,458.60 L88.12,464.20 L103.53,468.60 L134.35,476.60 L211.40,483.00" fill="none" stroke="#f00" stroke-width="1.1" stroke-linejoin="round"/>
<path d="M58.84,443.60 L65.00,467.60 L72.71,472.20 L88.12,479.50 L103.53,484.70 L134.35,491.20 L211.40,498.90" fill="none" stroke="#000" stroke-width="1.1" stroke-linejoin="round"/>
<rect x="56.84" y="402.10" width="4.0" height="4.0" fill="#f00"/>
<rect x="62.80" y="425.40" width="4.4" height="4.4" fill="#f00"/>
<rect x="70.51" y="430.10" width="4.4" height="4.4" fill="#f00"/>
<rect x="85.92" y="431.60" width="4.4" height="4.4" fill="#f00"/>
<rect x="101.33" y="431.40" width="4.4" height="4.4" fill="#f00"/>
<rect x="132.15" y="433.00" width="4.4" height="4.4" fill="#f00"/>
<rect x="209.20" y="435.00" width="4.4" height="4.4" fill="#f00"/>
<rect x="56.69" y="412.85" width="4.3" height="4.3" fill="#000"/>
<rect x="62.85" y="426.95" width="4.3" height="4.3" fill="#000"/>
<rect x="70.56" y="430.55" width="4.3" height="4.3" fill="#000"/>
<rect x="85.97" y="433.55" width="4.3" height="4.3" fill="#000"/>
<rect x="101.38" y="433.55" width="4.3" height="4.3" fill="#000"/>
<rect x="132.20" y="433.55" width="4.3" height="4.3" fill="#000"/>
<rect x="209.25" y="436.65" width="4.3" height="4.3" fill="#000"/>
<rect x="56.39" y="441.15" width="4.9" height="4.9" fill="#f00"/>
<rect x="62.55" y="452.75" width="4.9" height="4.9" fill="#f00"/>
<rect x="70.26" y="456.15" width="4.9" height="4.9" fill="#f00"/>
<rect x="85.67" y="461.75" width="4.9" height="4.9" fill="#f00"/>
<rect x="101.08" y="466.15" width="4.9" height="4.9" fill="#f00"/>
<rect x="131.90" y="474.15" width="4.9" height="4.9" fill="#f00"/>
<rect x="208.95" y="480.55" width="4.9" height="4.9" fill="#f00"/>
<rect x="62.70" y="465.30" width="4.6" height="4.6" fill="#000"/>
<rect x="70.41" y="469.90" width="4.6" height="4.6" fill="#000"/>
<rect x="85.82" y="477.20" width="4.6" height="4.6" fill="#000"/>
<rect x="101.23" y="482.40" width="4.6" height="4.6" fill="#000"/>
<rect x="132.05" y="488.90" width="4.6" height="4.6" fill="#000"/>
<rect x="209.10" y="496.60" width="4.6" height="4.6" fill="#000"/>
<line x1="53.00" y1="477.00" x2="67.60" y2="477.00" stroke="#000" stroke-width="1.6"/>
<path d="M49.2,477 L55.5,474.6 L55.5,479.4 Z" fill="#000"/>
<line x1="197.80" y1="430.90" x2="212.00" y2="430.90" stroke="#f00" stroke-width="1.6"/>
<path d="M217.6,430.9 L211.3,428.5 L211.3,433.3 Z" fill="#f00"/>
<line x1="163.00" y1="404.00" x2="180.80" y2="404.00" stroke="#000" stroke-width="0.9"/>
<rect x="169.90" y="401.90" width="4.2" height="4.2" fill="#000"/>
<line x1="163.00" y1="413.30" x2="180.80" y2="413.30" stroke="#f00" stroke-width="0.9"/>
<rect x="169.90" y="411.20" width="4.2" height="4.2" fill="#f00"/>
<text transform="translate(183.00 406.60) scale(1.080 1)" font-family="'Liberation Sans', sans-serif" font-size="7.6" text-anchor="start" fill="#222" stroke="#222" stroke-width="0.15" style="font-kerning:none">GO-KS6</text>
<text transform="translate(183.00 415.90) scale(1.060 1)" font-family="'Liberation Sans', sans-serif" font-size="7.6" text-anchor="start" fill="#222" stroke="#222" stroke-width="0.15" style="font-kerning:none">GO-SFG6</text>
<rect x="288" y="395.5" width="185.39999999999998" height="127.39999999999998" fill="none" stroke="#111" stroke-width="1.3"/>
<line x1="285.50" y1="522.90" x2="288.00" y2="522.90" stroke="#111" stroke-width="1.0"/>
<text transform="translate(284.00 525.20) scale(0.950 1)" font-family="'Liberation Sans', sans-serif" font-size="6.7" text-anchor="end" fill="#222" stroke="#222" stroke-width="0.15" style="font-kerning:none">0</text>
<line x1="285.50" y1="501.63" x2="288.00" y2="501.63" stroke="#111" stroke-width="1.0"/>
<text transform="translate(284.00 503.94) scale(0.950 1)" font-family="'Liberation Sans', sans-serif" font-size="6.7" text-anchor="end" fill="#222" stroke="#222" stroke-width="0.15" style="font-kerning:none">50</text>
<line x1="285.50" y1="480.37" x2="288.00" y2="480.37" stroke="#111" stroke-width="1.0"/>
<text transform="translate(284.00 482.67) scale(0.950 1)" font-family="'Liberation Sans', sans-serif" font-size="6.7" text-anchor="end" fill="#222" stroke="#222" stroke-width="0.15" style="font-kerning:none">100</text>
<line x1="285.50" y1="459.10" x2="288.00" y2="459.10" stroke="#111" stroke-width="1.0"/>
<text transform="translate(284.00 461.40) scale(0.950 1)" font-family="'Liberation Sans', sans-serif" font-size="6.7" text-anchor="end" fill="#222" stroke="#222" stroke-width="0.15" style="font-kerning:none">150</text>
<line x1="285.50" y1="437.84" x2="288.00" y2="437.84" stroke="#111" stroke-width="1.0"/>
<text transform="translate(284.00 440.14) scale(0.950 1)" font-family="'Liberation Sans', sans-serif" font-size="6.7" text-anchor="end" fill="#222" stroke="#222" stroke-width="0.15" style="font-kerning:none">200</text>
<line x1="285.50" y1="416.57" x2="288.00" y2="416.57" stroke="#111" stroke-width="1.0"/>
<text transform="translate(284.00 418.88) scale(0.950 1)" font-family="'Liberation Sans', sans-serif" font-size="6.7" text-anchor="end" fill="#222" stroke="#222" stroke-width="0.15" style="font-kerning:none">250</text>
<line x1="285.50" y1="395.31" x2="288.00" y2="395.31" stroke="#111" stroke-width="1.0"/>
<text transform="translate(284.00 397.61) scale(0.950 1)" font-family="'Liberation Sans', sans-serif" font-size="6.7" text-anchor="end" fill="#222" stroke="#222" stroke-width="0.15" style="font-kerning:none">300</text>
<line x1="286.50" y1="512.27" x2="288.00" y2="512.27" stroke="#111" stroke-width="0.9"/>
<line x1="286.50" y1="491.00" x2="288.00" y2="491.00" stroke="#111" stroke-width="0.9"/>
<line x1="286.50" y1="469.74" x2="288.00" y2="469.74" stroke="#111" stroke-width="0.9"/>
<line x1="286.50" y1="448.47" x2="288.00" y2="448.47" stroke="#111" stroke-width="0.9"/>
<line x1="286.50" y1="427.21" x2="288.00" y2="427.21" stroke="#111" stroke-width="0.9"/>
<line x1="286.50" y1="405.94" x2="288.00" y2="405.94" stroke="#111" stroke-width="0.9"/>
<line x1="288.00" y1="522.90" x2="288.00" y2="525.50" stroke="#111" stroke-width="1.0"/>
<text transform="translate(288.00 532.50) scale(1.100 1)" font-family="'Liberation Sans', sans-serif" font-size="7.0" text-anchor="middle" fill="#222" stroke="#222" stroke-width="0.15" style="font-kerning:none">0.0</text>
<line x1="316.45" y1="522.90" x2="316.45" y2="525.50" stroke="#111" stroke-width="1.0"/>
<text transform="translate(316.45 532.50) scale(1.100 1)" font-family="'Liberation Sans', sans-serif" font-size="7.0" text-anchor="middle" fill="#222" stroke="#222" stroke-width="0.15" style="font-kerning:none">0.5</text>
<line x1="344.90" y1="522.90" x2="344.90" y2="525.50" stroke="#111" stroke-width="1.0"/>
<text transform="translate(344.90 532.50) scale(1.100 1)" font-family="'Liberation Sans', sans-serif" font-size="7.0" text-anchor="middle" fill="#222" stroke="#222" stroke-width="0.15" style="font-kerning:none">1.0</text>
<line x1="373.35" y1="522.90" x2="373.35" y2="525.50" stroke="#111" stroke-width="1.0"/>
<text transform="translate(373.35 532.50) scale(1.100 1)" font-family="'Liberation Sans', sans-serif" font-size="7.0" text-anchor="middle" fill="#222" stroke="#222" stroke-width="0.15" style="font-kerning:none">1.5</text>
<line x1="401.80" y1="522.90" x2="401.80" y2="525.50" stroke="#111" stroke-width="1.0"/>
<text transform="translate(401.80 532.50) scale(1.100 1)" font-family="'Liberation Sans', sans-serif" font-size="7.0" text-anchor="middle" fill="#222" stroke="#222" stroke-width="0.15" style="font-kerning:none">2.0</text>
<line x1="430.25" y1="522.90" x2="430.25" y2="525.50" stroke="#111" stroke-width="1.0"/>
<text transform="translate(430.25 532.50) scale(1.100 1)" font-family="'Liberation Sans', sans-serif" font-size="7.0" text-anchor="middle" fill="#222" stroke="#222" stroke-width="0.15" style="font-kerning:none">2.5</text>
<line x1="458.70" y1="522.90" x2="458.70" y2="525.50" stroke="#111" stroke-width="1.0"/>
<text transform="translate(458.70 532.50) scale(1.100 1)" font-family="'Liberation Sans', sans-serif" font-size="7.0" text-anchor="middle" fill="#222" stroke="#222" stroke-width="0.15" style="font-kerning:none">3.0</text>
<line x1="302.23" y1="522.90" x2="302.23" y2="524.40" stroke="#111" stroke-width="0.9"/>
<line x1="330.68" y1="522.90" x2="330.68" y2="524.40" stroke="#111" stroke-width="0.9"/>
<line x1="359.12" y1="522.90" x2="359.12" y2="524.40" stroke="#111" stroke-width="0.9"/>
<line x1="387.57" y1="522.90" x2="387.57" y2="524.40" stroke="#111" stroke-width="0.9"/>
<line x1="416.02" y1="522.90" x2="416.02" y2="524.40" stroke="#111" stroke-width="0.9"/>
<line x1="444.48" y1="522.90" x2="444.48" y2="524.40" stroke="#111" stroke-width="0.9"/>
<text transform="translate(380.10 542.60) scale(1.120 1)" font-family="'Liberation Sans', sans-serif" font-size="8.5" font-weight="bold" text-anchor="middle" fill="#000" stroke="#000" stroke-width="0.2" style="font-kerning:none">Specific current (A.g<tspan dy="-3.5" font-size="5.5">-1</tspan><tspan dy="3.5">)</tspan></text>
<text transform="translate(268.80 458.60) rotate(-90)" font-family="'Liberation Sans', sans-serif" font-size="8.9" font-weight="bold" text-anchor="middle" fill="#000" stroke="#000" stroke-width="0.2" style="font-kerning:none">Specific capacitance (F.g<tspan dy="-3.6" font-size="5.5">-1</tspan><tspan dy="3.6">)</tspan></text>
<text x="252.60" y="388.54" font-family="'Liberation Serif', serif" font-weight="normal" stroke="#000" stroke-width="0.75" font-size="19.07" fill="#000">(<tspan font-size="20.03" dy="1.5">f</tspan><tspan dy="-1.5" dx="0.9">)</tspan></text>
<rect x="300.08" y="422.45" width="4.3" height="4.3" fill="#000"/>
<rect x="314.30" y="447.95" width="4.3" height="4.3" fill="#000"/>
<rect x="342.75" y="459.65" width="4.3" height="4.3" fill="#000"/>
<rect x="371.20" y="467.35" width="4.3" height="4.3" fill="#000"/>
<rect x="399.65" y="471.95" width="4.3" height="4.3" fill="#000"/>
<rect x="428.10" y="476.45" width="4.3" height="4.3" fill="#000"/>
<rect x="456.55" y="480.25" width="4.3" height="4.3" fill="#000"/>
<circle cx="302.23" cy="435" r="2.35" fill="#f00"/>
<circle cx="316.45" cy="447.6" r="2.35" fill="#f00"/>
<circle cx="344.90" cy="453.8" r="2.35" fill="#f00"/>
<circle cx="373.35" cy="457.6" r="2.35" fill="#f00"/>
<circle cx="401.80" cy="460.7" r="2.35" fill="#f00"/>
<circle cx="430.25" cy="462.7" r="2.35" fill="#f00"/>
<circle cx="458.70" cy="465.8" r="2.35" fill="#f00"/>
<rect x="411.35" y="401.85" width="4.3" height="4.3" fill="#000"/>
<circle cx="413.5" cy="413.6" r="2.35" fill="#f00"/>
<text transform="translate(424.80 406.60) scale(1.020 1)" font-family="'Liberation Sans', sans-serif" font-size="7.6" text-anchor="start" fill="#222" stroke="#222" stroke-width="0.15" style="font-kerning:none">GO-KS6</text>
<text transform="translate(424.80 416.00) scale(1.020 1)" font-family="'Liberation Sans', sans-serif" font-size="7.6" text-anchor="start" fill="#222" stroke="#222" stroke-width="0.15" style="font-kerning:none">GO-SFG6</text>
</svg></body></html>
